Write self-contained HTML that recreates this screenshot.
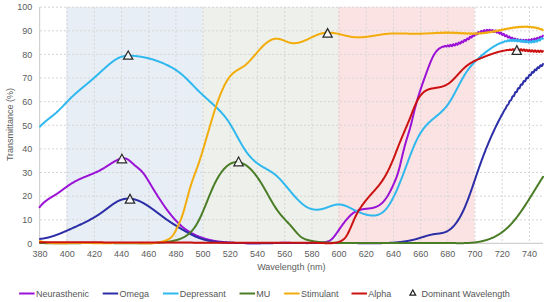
<!DOCTYPE html>
<html><head><meta charset="utf-8"><style>
html,body{margin:0;padding:0;background:#fff;width:550px;height:302px;overflow:hidden}
svg{display:block;font-family:"Liberation Sans",sans-serif}
</style></head><body>
<svg width="550" height="302" viewBox="0 0 550 302">
<rect x="66.2" y="7" width="135.9" height="236.4" fill="#e8eef6"/>
<rect x="202.1" y="7" width="135.9" height="236.4" fill="#eef1eb"/>
<rect x="338" y="7" width="136.6" height="236.4" fill="#fce3e3"/>
<g stroke="#d6d6d6" stroke-width="1" stroke-dasharray="2,2" fill="none">
<line x1="67.2" y1="7" x2="67.2" y2="243.4"/>
<line x1="94.4" y1="7" x2="94.4" y2="243.4"/>
<line x1="121.6" y1="7" x2="121.6" y2="243.4"/>
<line x1="148.8" y1="7" x2="148.8" y2="243.4"/>
<line x1="175.9" y1="7" x2="175.9" y2="243.4"/>
<line x1="203.1" y1="7" x2="203.1" y2="243.4"/>
<line x1="230.3" y1="7" x2="230.3" y2="243.4"/>
<line x1="257.5" y1="7" x2="257.5" y2="243.4"/>
<line x1="284.7" y1="7" x2="284.7" y2="243.4"/>
<line x1="311.9" y1="7" x2="311.9" y2="243.4"/>
<line x1="339.1" y1="7" x2="339.1" y2="243.4"/>
<line x1="366.3" y1="7" x2="366.3" y2="243.4"/>
<line x1="393.5" y1="7" x2="393.5" y2="243.4"/>
<line x1="420.7" y1="7" x2="420.7" y2="243.4"/>
<line x1="447.8" y1="7" x2="447.8" y2="243.4"/>
<line x1="475.0" y1="7" x2="475.0" y2="243.4"/>
<line x1="502.2" y1="7" x2="502.2" y2="243.4"/>
<line x1="529.4" y1="7" x2="529.4" y2="243.4"/>
<line x1="40" y1="219.8" x2="543" y2="219.8"/>
<line x1="40" y1="196.2" x2="543" y2="196.2"/>
<line x1="40" y1="172.5" x2="543" y2="172.5"/>
<line x1="40" y1="148.9" x2="543" y2="148.9"/>
<line x1="40" y1="125.3" x2="543" y2="125.3"/>
<line x1="40" y1="101.7" x2="543" y2="101.7"/>
<line x1="40" y1="78.0" x2="543" y2="78.0"/>
<line x1="40" y1="54.4" x2="543" y2="54.4"/>
<line x1="40" y1="30.8" x2="543" y2="30.8"/>
<line x1="40" y1="7.2" x2="543" y2="7.2"/>
</g>
<line x1="39.6" y1="7" x2="39.6" y2="243.4" stroke="#d0d0d0" stroke-width="1.2"/>
<line x1="39.6" y1="243.4" x2="543" y2="243.4" stroke="#d0d0d0" stroke-width="1.2"/>
<g fill="#5c5c5c" font-size="9" text-anchor="end">
<text x="32.2" y="246.6">0</text>
<text x="32.2" y="223.0">10</text>
<text x="32.2" y="199.3">20</text>
<text x="32.2" y="175.7">30</text>
<text x="32.2" y="152.1">40</text>
<text x="32.2" y="128.5">50</text>
<text x="32.2" y="104.9">60</text>
<text x="32.2" y="81.2">70</text>
<text x="32.2" y="57.6">80</text>
<text x="32.2" y="34.0">90</text>
<text x="32.2" y="10.4">100</text>
</g>
<g fill="#5c5c5c" font-size="9" text-anchor="middle">
<text x="40.0" y="257">380</text>
<text x="67.2" y="257">400</text>
<text x="94.4" y="257">420</text>
<text x="121.6" y="257">440</text>
<text x="148.8" y="257">460</text>
<text x="175.9" y="257">480</text>
<text x="203.1" y="257">500</text>
<text x="230.3" y="257">520</text>
<text x="257.5" y="257">540</text>
<text x="284.7" y="257">560</text>
<text x="311.9" y="257">580</text>
<text x="339.1" y="257">600</text>
<text x="366.3" y="257">620</text>
<text x="393.5" y="257">640</text>
<text x="420.7" y="257">660</text>
<text x="447.8" y="257">680</text>
<text x="475.0" y="257">700</text>
<text x="502.2" y="257">720</text>
<text x="529.4" y="257">740</text>
<text x="291.3" y="269.8">Wavelength (nm)</text>
<text transform="translate(13,124.5) rotate(-90)">Transmittance (%)</text>
</g>
<g fill="none" stroke-width="2" stroke-linejoin="round" stroke-linecap="round">
<path d="M39.60,207.15 L40.10,206.52 L40.60,205.92 L41.10,205.35 L41.60,204.80 L42.10,204.27 L42.60,203.76 L43.10,203.27 L43.60,202.80 L44.10,202.35 L44.60,201.91 L45.10,201.50 L45.60,201.09 L46.10,200.70 L46.60,200.33 L47.10,199.97 L47.60,199.61 L48.10,199.27 L48.60,198.94 L49.10,198.61 L49.60,198.29 L50.10,197.98 L50.60,197.67 L51.10,197.37 L51.60,197.07 L52.10,196.77 L52.60,196.47 L53.10,196.17 L53.60,195.88 L54.10,195.57 L54.60,195.27 L55.10,194.96 L55.60,194.64 L56.10,194.32 L56.60,194.00 L57.10,193.66 L57.60,193.33 L58.10,192.98 L58.60,192.64 L59.10,192.29 L59.60,191.93 L60.10,191.58 L60.60,191.22 L61.10,190.86 L61.60,190.49 L62.10,190.13 L62.60,189.76 L63.10,189.39 L63.60,189.03 L64.10,188.66 L64.60,188.29 L65.10,187.93 L65.60,187.56 L66.10,187.20 L66.60,186.84 L67.10,186.49 L67.60,186.13 L68.10,185.78 L68.60,185.43 L69.10,185.09 L69.60,184.75 L70.10,184.42 L70.60,184.09 L71.10,183.77 L71.60,183.46 L72.10,183.15 L72.60,182.85 L73.10,182.55 L73.60,182.26 L74.10,181.98 L74.60,181.70 L75.10,181.43 L75.60,181.16 L76.10,180.90 L76.60,180.64 L77.10,180.39 L77.60,180.14 L78.10,179.90 L78.60,179.66 L79.10,179.42 L79.60,179.19 L80.10,178.96 L80.60,178.74 L81.10,178.52 L81.60,178.30 L82.10,178.08 L82.60,177.86 L83.10,177.65 L83.60,177.44 L84.10,177.23 L84.60,177.03 L85.10,176.82 L85.60,176.62 L86.10,176.41 L86.60,176.21 L87.10,176.01 L87.60,175.80 L88.10,175.60 L88.60,175.40 L89.10,175.20 L89.60,175.00 L90.10,174.79 L90.60,174.59 L91.10,174.38 L91.60,174.18 L92.10,173.97 L92.60,173.76 L93.10,173.55 L93.60,173.33 L94.10,173.12 L94.60,172.90 L95.10,172.68 L95.60,172.45 L96.10,172.22 L96.60,171.99 L97.10,171.76 L97.60,171.52 L98.10,171.28 L98.60,171.03 L99.10,170.78 L99.60,170.52 L100.10,170.26 L100.60,170.00 L101.10,169.73 L101.60,169.45 L102.10,169.17 L102.60,168.88 L103.10,168.59 L103.60,168.29 L104.10,167.98 L104.60,167.68 L105.10,167.36 L105.60,167.05 L106.10,166.73 L106.60,166.41 L107.10,166.09 L107.60,165.76 L108.10,165.44 L108.60,165.11 L109.10,164.79 L109.60,164.47 L110.10,164.15 L110.60,163.83 L111.10,163.51 L111.60,163.20 L112.10,162.89 L112.60,162.58 L113.10,162.28 L113.60,161.98 L114.10,161.70 L114.60,161.41 L115.10,161.14 L115.60,160.87 L116.10,160.61 L116.60,160.35 L117.10,160.11 L117.60,159.88 L118.10,159.65 L118.60,159.44 L119.10,159.24 L119.60,159.05 L120.10,158.88 L120.60,158.72 L121.10,158.58 L121.60,158.47 L122.10,158.37 L122.60,158.30 L123.10,158.26 L123.60,158.24 L124.10,158.26 L124.60,158.30 L125.10,158.38 L125.60,158.50 L126.10,158.65 L126.60,158.84 L127.10,159.08 L127.60,159.35 L128.10,159.65 L128.60,159.99 L129.10,160.35 L129.60,160.74 L130.10,161.15 L130.60,161.57 L131.10,162.01 L131.60,162.46 L132.10,162.92 L132.60,163.38 L133.10,163.84 L133.60,164.29 L134.10,164.74 L134.60,165.18 L135.10,165.61 L135.60,166.02 L136.10,166.43 L136.60,166.84 L137.10,167.24 L137.60,167.64 L138.10,168.05 L138.60,168.46 L139.10,168.88 L139.60,169.32 L140.10,169.77 L140.60,170.24 L141.10,170.73 L141.60,171.25 L142.10,171.79 L142.60,172.36 L143.10,172.97 L143.60,173.60 L144.10,174.27 L144.60,174.96 L145.10,175.68 L145.60,176.41 L146.10,177.17 L146.60,177.95 L147.10,178.74 L147.60,179.54 L148.10,180.36 L148.60,181.18 L149.10,182.01 L149.60,182.85 L150.10,183.69 L150.60,184.52 L151.10,185.36 L151.60,186.19 L152.10,187.02 L152.60,187.85 L153.10,188.67 L153.60,189.49 L154.10,190.31 L154.60,191.12 L155.10,191.93 L155.60,192.74 L156.10,193.54 L156.60,194.34 L157.10,195.14 L157.60,195.93 L158.10,196.71 L158.60,197.49 L159.10,198.27 L159.60,199.04 L160.10,199.81 L160.60,200.57 L161.10,201.32 L161.60,202.07 L162.10,202.82 L162.60,203.56 L163.10,204.29 L163.60,205.01 L164.10,205.73 L164.60,206.45 L165.10,207.15 L165.60,207.85 L166.10,208.55 L166.60,209.23 L167.10,209.91 L167.60,210.58 L168.10,211.25 L168.60,211.91 L169.10,212.55 L169.60,213.20 L170.10,213.83 L170.60,214.46 L171.10,215.08 L171.60,215.69 L172.10,216.29 L172.60,216.89 L173.10,217.47 L173.60,218.05 L174.10,218.63 L174.60,219.19 L175.10,219.74 L175.60,220.29 L176.10,220.83 L176.60,221.36 L177.10,221.88 L177.60,222.39 L178.10,222.89 L178.60,223.38 L179.10,223.87 L179.60,224.34 L180.10,224.81 L180.60,225.27 L181.10,225.72 L181.60,226.16 L182.10,226.58 L182.60,227.00 L183.10,227.42 L183.60,227.82 L184.10,228.21 L184.60,228.60 L185.10,228.97 L185.60,229.34 L186.10,229.70 L186.60,230.05 L187.10,230.39 L187.60,230.73 L188.10,231.06 L188.60,231.38 L189.10,231.69 L189.60,232.00 L190.10,232.30 L190.60,232.59 L191.10,232.87 L191.60,233.15 L192.10,233.43 L192.60,233.69 L193.10,233.95 L193.60,234.21 L194.10,234.46 L194.60,234.70 L195.10,234.94 L195.60,235.17 L196.10,235.39 L196.60,235.62 L197.10,235.83 L197.60,236.04 L198.10,236.25 L198.60,236.46 L199.10,236.65 L199.60,236.85 L200.10,237.04 L200.60,237.22 L201.10,237.40 L201.60,237.58 L202.10,237.75 L202.60,237.92 L203.10,238.09 L203.60,238.25 L204.10,238.40 L204.60,238.56 L205.10,238.71 L205.60,238.85 L206.10,238.99 L206.60,239.13 L207.10,239.27 L207.60,239.40 L208.10,239.53 L208.60,239.65 L209.10,239.77 L209.60,239.89 L210.10,240.00 L210.60,240.11 L211.10,240.22 L211.60,240.33 L212.10,240.43 L212.60,240.53 L213.10,240.62 L213.60,240.72 L214.10,240.81 L214.60,240.90 L215.10,240.98 L215.60,241.06 L216.10,241.14 L216.60,241.22 L217.10,241.30 L217.60,241.37 L218.10,241.44 L218.60,241.51 L219.10,241.57 L219.60,241.64 L220.10,241.70 L220.60,241.76 L221.10,241.82 L221.60,241.87 L222.10,241.93 L222.60,241.98 L223.10,242.03 L223.60,242.08 L224.10,242.13 L224.60,242.17 L225.10,242.22 L225.60,242.26 L226.10,242.30 L226.60,242.34 L227.10,242.38 L227.60,242.42 L228.10,242.45 L228.60,242.49 L229.10,242.52 L229.60,242.56 L230.10,242.59 L230.60,242.62 L231.10,242.65 L231.60,242.68 L232.10,242.71 L232.60,242.73 L233.10,242.76 L233.60,242.79 L234.10,242.81 L234.60,242.83 L235.10,242.86 L235.60,242.88 L236.10,242.90 L236.60,242.92 L237.10,242.94 L237.60,242.96 L238.10,242.97 L238.60,242.99 L239.10,243.01 L239.60,243.02 L240.10,243.04 L240.60,243.05 L241.10,243.06 L241.60,243.07 L242.10,243.09 L242.60,243.10 L243.10,243.11 L243.60,243.12 L244.10,243.12 L244.60,243.13 L245.10,243.14 L245.60,243.15 L246.10,243.15 L246.60,243.16 L247.10,243.16 L247.60,243.17 L248.10,243.17 L248.60,243.17 L249.10,243.18 L249.60,243.18 L250.10,243.18 L250.60,243.18 L251.10,243.18 L251.60,243.18 L252.10,243.18 L252.60,243.18 L253.10,243.18 L253.60,243.18 L254.10,243.18 L254.60,243.18 L255.10,243.17 L255.60,243.17 L256.10,243.17 L256.60,243.16 L257.10,243.16 L257.60,243.16 L258.10,243.15 L258.60,243.15 L259.10,243.14 L259.60,243.14 L260.10,243.13 L260.60,243.13 L261.10,243.12 L261.60,243.11 L262.10,243.11 L262.60,243.10 L263.10,243.10 L263.60,243.09 L264.10,243.08 L264.60,243.07 L265.10,243.07 L265.60,243.06 L266.10,243.05 L266.60,243.05 L267.10,243.04 L267.60,243.03 L268.10,243.02 L268.60,243.02 L269.10,243.01 L269.60,243.00 L270.10,242.99 L270.60,242.99 L271.10,242.98 L271.60,242.97 L272.10,242.96 L272.60,242.96 L273.10,242.95 L273.60,242.94 L274.10,242.94 L274.60,242.93 L275.10,242.92 L275.60,242.92 L276.10,242.91 L276.60,242.91 L277.10,242.90 L277.60,242.89 L278.10,242.89 L278.60,242.88 L279.10,242.88 L279.60,242.88 L280.10,242.87 L280.60,242.87 L281.10,242.86 L281.60,242.86 L282.10,242.86 L282.60,242.86 L283.10,242.85 L283.60,242.85 L284.10,242.85 L284.60,242.85 L285.10,242.85 L285.60,242.85 L286.10,242.85 L286.60,242.85 L287.10,242.85 L287.60,242.85 L288.10,242.86 L288.60,242.86 L289.10,242.86 L289.60,242.87 L290.10,242.87 L290.60,242.88 L291.10,242.88 L291.60,242.89 L292.10,242.90 L292.60,242.90 L293.10,242.91 L293.60,242.92 L294.10,242.93 L294.60,242.94 L295.10,242.95 L295.60,242.96 L296.10,242.97 L296.60,242.98 L297.10,242.99 L297.60,243.00 L298.10,243.01 L298.60,243.02 L299.10,243.03 L299.60,243.04 L300.10,243.05 L300.60,243.06 L301.10,243.06 L301.60,243.07 L302.10,243.08 L302.60,243.09 L303.10,243.10 L303.60,243.10 L304.10,243.11 L304.60,243.11 L305.10,243.12 L305.60,243.12 L306.10,243.12 L306.60,243.13 L307.10,243.13 L307.60,243.13 L308.10,243.12 L308.60,243.12 L309.10,243.12 L309.60,243.11 L310.10,243.11 L310.60,243.10 L311.10,243.09 L311.60,243.08 L312.10,243.07 L312.60,243.06 L313.10,243.04 L313.60,243.03 L314.10,243.01 L314.60,242.99 L315.10,242.97 L315.60,242.94 L316.10,242.92 L316.60,242.89 L317.10,242.86 L317.60,242.83 L318.10,242.80 L318.60,242.76 L319.10,242.72 L319.60,242.68 L320.10,242.64 L320.60,242.60 L321.10,242.55 L321.60,242.50 L322.10,242.45 L322.60,242.39 L323.10,242.33 L323.60,242.27 L324.10,242.21 L324.60,242.14 L325.10,242.07 L325.60,241.98 L326.10,241.88 L326.60,241.76 L327.10,241.63 L327.60,241.48 L328.10,241.30 L328.60,241.10 L329.10,240.87 L329.60,240.61 L330.10,240.31 L330.60,239.98 L331.10,239.61 L331.60,239.21 L332.10,238.75 L332.60,238.26 L333.10,237.73 L333.60,237.17 L334.10,236.57 L334.60,235.95 L335.10,235.31 L335.60,234.64 L336.10,233.95 L336.60,233.25 L337.10,232.53 L337.60,231.81 L338.10,231.08 L338.60,230.34 L339.10,229.61 L339.60,228.88 L340.10,228.15 L340.60,227.44 L341.10,226.72 L341.60,226.02 L342.10,225.33 L342.60,224.64 L343.10,223.96 L343.60,223.30 L344.10,222.64 L344.60,221.99 L345.10,221.36 L345.60,220.73 L346.10,220.12 L346.60,219.53 L347.10,218.94 L347.60,218.37 L348.10,217.81 L348.60,217.27 L349.10,216.75 L349.60,216.24 L350.10,215.74 L350.60,215.26 L351.10,214.81 L351.60,214.36 L352.10,213.94 L352.60,213.54 L353.10,213.15 L353.60,212.79 L354.10,212.44 L354.60,212.12 L355.10,211.81 L355.60,211.53 L356.10,211.27 L356.60,211.03 L357.10,210.80 L357.60,210.59 L358.10,210.40 L358.60,210.22 L359.10,210.06 L359.60,209.91 L360.10,209.78 L360.60,209.65 L361.10,209.54 L361.60,209.44 L362.10,209.34 L362.60,209.26 L363.10,209.18 L363.60,209.10 L364.10,209.04 L364.60,208.98 L365.10,208.92 L365.60,208.86 L366.10,208.81 L366.60,208.76 L367.10,208.71 L367.60,208.65 L368.10,208.60 L368.60,208.55 L369.10,208.49 L369.60,208.42 L370.10,208.35 L370.60,208.28 L371.10,208.20 L371.60,208.11 L372.10,208.01 L372.60,207.91 L373.10,207.79 L373.60,207.66 L374.10,207.52 L374.60,207.37 L375.10,207.20 L375.60,207.02 L376.10,206.83 L376.60,206.61 L377.10,206.38 L377.60,206.13 L378.10,205.87 L378.60,205.58 L379.10,205.27 L379.60,204.94 L380.10,204.59 L380.60,204.21 L381.10,203.81 L381.60,203.38 L382.10,202.93 L382.60,202.45 L383.10,201.95 L383.60,201.41 L384.10,200.84 L384.60,200.25 L385.10,199.62 L385.60,198.96 L386.10,198.27 L386.60,197.54 L387.10,196.78 L387.60,195.98 L388.10,195.15 L388.60,194.29 L389.10,193.40 L389.60,192.48 L390.10,191.54 L390.60,190.56 L391.10,189.56 L391.60,188.53 L392.10,187.48 L392.60,186.41 L393.10,185.32 L393.60,184.20 L394.10,183.07 L394.60,181.92 L395.10,180.75 L395.60,179.55 L396.10,178.30 L396.60,176.99 L397.10,175.61 L397.60,174.14 L398.10,172.57 L398.60,170.89 L399.10,169.08 L399.60,167.16 L400.10,165.15 L400.60,163.08 L401.10,160.96 L401.60,158.82 L402.10,156.67 L402.60,154.54 L403.10,152.45 L403.60,150.41 L404.10,148.43 L404.60,146.53 L405.10,144.70 L405.60,142.95 L406.10,141.24 L406.60,139.58 L407.10,137.95 L407.60,136.33 L408.10,134.70 L408.60,133.07 L409.10,131.40 L409.60,129.68 L410.10,127.91 L410.60,126.07 L411.10,124.14 L411.60,122.14 L412.10,120.10 L412.60,118.02 L413.10,115.93 L413.60,113.85 L414.10,111.79 L414.60,109.77 L415.10,107.82 L415.60,105.92 L416.10,104.08 L416.60,102.28 L417.10,100.54 L417.60,98.83 L418.10,97.17 L418.60,95.54 L419.10,93.94 L419.60,92.38 L420.10,90.84 L420.60,89.33 L421.10,87.84 L421.60,86.38 L422.10,84.93 L422.60,83.50 L423.10,82.09 L423.60,80.68 L424.10,79.28 L424.60,77.89 L425.10,76.51 L425.60,75.12 L426.10,73.74 L426.60,72.36 L427.10,70.98 L427.60,69.62 L428.10,68.27 L428.60,66.94 L429.10,65.63 L429.60,64.34 L430.10,63.09 L430.60,61.87 L431.10,60.68 L431.60,59.54 L432.10,58.45 L432.60,57.40 L433.10,56.40 L433.60,55.47 L434.10,54.59 L434.60,53.77 L435.10,53.00 L435.60,52.29 L436.10,51.63 L436.60,51.02 L437.10,50.46 L437.60,49.95 L438.10,49.48 L438.60,49.05 L439.10,48.65 L439.60,48.30 L440.00,48.04 L440.35,47.85 L440.70,47.69 L441.05,47.51 L441.40,47.30 L441.75,47.06 L442.10,46.86 L442.45,46.76 L442.80,46.77 L443.15,46.82 L443.50,46.82 L443.85,46.68 L444.20,46.41 L444.55,46.11 L444.90,45.93 L445.25,45.96 L445.60,46.17 L445.95,46.42 L446.30,46.53 L446.65,46.37 L447.00,46.00 L447.35,45.60 L447.70,45.39 L448.05,45.50 L448.40,45.86 L448.75,46.27 L449.10,46.44 L449.45,46.22 L449.80,45.71 L450.15,45.15 L450.50,44.87 L450.85,45.01 L451.20,45.50 L451.55,46.01 L451.90,46.21 L452.25,45.90 L452.60,45.23 L452.95,44.55 L453.30,44.22 L453.65,44.39 L454.00,44.91 L454.35,45.42 L454.70,45.57 L455.05,45.23 L455.40,44.53 L455.75,43.82 L456.10,43.47 L456.45,43.60 L456.80,44.09 L457.15,44.58 L457.50,44.71 L457.85,44.33 L458.20,43.61 L458.55,42.88 L458.90,42.49 L459.25,42.61 L459.60,43.07 L459.95,43.53 L460.30,43.63 L460.65,43.23 L461.00,42.48 L461.35,41.72 L461.70,41.32 L462.05,41.41 L462.40,41.84 L462.75,42.28 L463.10,42.36 L463.45,41.93 L463.80,41.16 L464.15,40.38 L464.50,39.95 L464.85,40.01 L465.20,40.43 L465.55,40.84 L465.90,40.89 L466.25,40.45 L466.60,39.65 L466.95,38.85 L467.30,38.39 L467.65,38.44 L468.00,38.83 L468.35,39.23 L468.70,39.27 L469.05,38.81 L469.40,38.00 L469.75,37.18 L470.10,36.72 L470.45,36.76 L470.80,37.15 L471.15,37.54 L471.50,37.58 L471.85,37.12 L472.20,36.30 L472.55,35.49 L472.90,35.04 L473.25,35.08 L473.60,35.47 L473.95,35.87 L474.30,35.92 L474.65,35.47 L475.00,34.67 L475.35,33.88 L475.70,33.44 L476.05,33.50 L476.40,33.91 L476.75,34.33 L477.10,34.40 L477.45,33.98 L477.80,33.20 L478.15,32.44 L478.50,32.02 L478.85,32.12 L479.20,32.56 L479.55,33.02 L479.90,33.12 L480.25,32.74 L480.60,32.00 L480.95,31.27 L481.30,30.91 L481.65,31.04 L482.00,31.53 L482.35,32.03 L482.70,32.18 L483.05,31.84 L483.40,31.15 L483.75,30.47 L484.10,30.14 L484.45,30.32 L484.80,30.86 L485.15,31.40 L485.50,31.60 L485.85,31.30 L486.20,30.66 L486.55,30.02 L486.90,29.74 L487.25,29.96 L487.60,30.54 L487.95,31.13 L488.30,31.37 L488.65,31.11 L489.00,30.51 L489.35,29.92 L489.70,29.68 L490.05,29.94 L490.40,30.56 L490.75,31.19 L491.10,31.47 L491.45,31.26 L491.80,30.70 L492.15,30.14 L492.50,29.95 L492.85,30.25 L493.20,30.91 L493.55,31.58 L493.90,31.90 L494.25,31.73 L494.60,31.21 L494.95,30.69 L495.30,30.54 L495.65,30.88 L496.00,31.58 L496.35,32.29 L496.70,32.65 L497.05,32.51 L497.40,32.03 L497.75,31.55 L498.10,31.43 L498.45,31.81 L498.80,32.55 L499.15,33.29 L499.50,33.68 L499.85,33.58 L500.20,33.12 L500.55,32.67 L500.90,32.58 L501.25,32.98 L501.60,33.74 L501.95,34.50 L502.30,34.91 L502.65,34.82 L503.00,34.39 L503.35,33.95 L503.70,33.87 L504.05,34.28 L504.40,35.05 L504.75,35.82 L505.10,36.23 L505.45,36.15 L505.80,35.72 L506.15,35.28 L506.50,35.20 L506.85,35.61 L507.20,36.38 L507.55,37.14 L507.90,37.55 L508.25,37.46 L508.60,37.02 L508.95,36.57 L509.30,36.48 L509.65,36.88 L510.00,37.63 L510.35,38.37 L510.70,38.76 L511.05,38.65 L511.40,38.19 L511.75,37.72 L512.10,37.60 L512.45,37.97 L512.80,38.69 L513.15,39.41 L513.50,39.77 L513.85,39.63 L514.20,39.13 L514.55,38.63 L514.90,38.48 L515.25,38.82 L515.60,39.52 L515.95,40.20 L516.30,40.54 L516.65,40.37 L517.00,39.84 L517.35,39.31 L517.70,39.13 L518.05,39.45 L518.40,40.11 L518.75,40.77 L519.10,41.07 L519.45,40.87 L519.80,40.32 L520.15,39.76 L520.50,39.56 L520.85,39.84 L521.20,40.48 L521.55,41.11 L521.90,41.38 L522.25,41.16 L522.60,40.58 L522.95,39.99 L523.30,39.76 L523.65,40.02 L524.00,40.63 L524.35,41.23 L524.70,41.48 L525.05,41.23 L525.40,40.62 L525.75,40.01 L526.10,39.75 L526.45,39.98 L526.80,40.56 L527.15,41.14 L527.50,41.37 L527.85,41.09 L528.20,40.46 L528.55,39.82 L528.90,39.53 L529.25,39.74 L529.60,40.30 L529.95,40.85 L530.30,41.05 L530.65,40.75 L531.00,40.09 L531.35,39.43 L531.70,39.12 L532.05,39.30 L532.40,39.84 L532.75,40.37 L533.10,40.54 L533.45,40.22 L533.80,39.53 L534.15,38.85 L534.50,38.52 L534.85,38.68 L535.20,39.19 L535.55,39.69 L535.90,39.84 L536.25,39.49 L536.60,38.79 L536.95,38.08 L537.30,37.73 L537.65,37.86 L538.00,38.35 L538.35,38.84 L538.70,38.97 L539.05,38.59 L539.40,37.87 L539.75,37.14 L540.10,36.76 L540.45,36.88 L540.80,37.34 L541.15,37.81 L541.50,37.91 L541.85,37.52 L542.20,36.78 L542.55,36.03 L542.90,35.63" stroke="#9a12d6"/>
<path d="M40.00,238.91 L40.50,238.86 L41.00,238.81 L41.50,238.75 L42.00,238.69 L42.50,238.62 L43.00,238.55 L43.50,238.47 L44.00,238.38 L44.50,238.29 L45.00,238.20 L45.50,238.10 L46.00,238.00 L46.50,237.89 L47.00,237.78 L47.50,237.66 L48.00,237.54 L48.50,237.41 L49.00,237.28 L49.50,237.15 L50.00,237.01 L50.50,236.87 L51.00,236.72 L51.50,236.58 L52.00,236.42 L52.50,236.27 L53.00,236.11 L53.50,235.94 L54.00,235.78 L54.50,235.61 L55.00,235.44 L55.50,235.26 L56.00,235.08 L56.50,234.90 L57.00,234.72 L57.50,234.53 L58.00,234.35 L58.50,234.15 L59.00,233.96 L59.50,233.76 L60.00,233.57 L60.50,233.37 L61.00,233.16 L61.50,232.96 L62.00,232.75 L62.50,232.55 L63.00,232.34 L63.50,232.13 L64.00,231.91 L64.50,231.70 L65.00,231.49 L65.50,231.27 L66.00,231.05 L66.50,230.83 L67.00,230.61 L67.50,230.39 L68.00,230.17 L68.50,229.95 L69.00,229.73 L69.50,229.51 L70.00,229.28 L70.50,229.06 L71.00,228.83 L71.50,228.61 L72.00,228.39 L72.50,228.16 L73.00,227.94 L73.50,227.71 L74.00,227.49 L74.50,227.26 L75.00,227.04 L75.50,226.81 L76.00,226.59 L76.50,226.36 L77.00,226.13 L77.50,225.90 L78.00,225.67 L78.50,225.44 L79.00,225.21 L79.50,224.98 L80.00,224.75 L80.50,224.51 L81.00,224.28 L81.50,224.04 L82.00,223.80 L82.50,223.57 L83.00,223.32 L83.50,223.08 L84.00,222.84 L84.50,222.59 L85.00,222.34 L85.50,222.09 L86.00,221.84 L86.50,221.59 L87.00,221.33 L87.50,221.08 L88.00,220.82 L88.50,220.55 L89.00,220.29 L89.50,220.02 L90.00,219.75 L90.50,219.48 L91.00,219.21 L91.50,218.93 L92.00,218.65 L92.50,218.36 L93.00,218.08 L93.50,217.79 L94.00,217.50 L94.50,217.20 L95.00,216.90 L95.50,216.60 L96.00,216.29 L96.50,215.98 L97.00,215.67 L97.50,215.36 L98.00,215.04 L98.50,214.71 L99.00,214.38 L99.50,214.05 L100.00,213.72 L100.50,213.38 L101.00,213.03 L101.50,212.69 L102.00,212.34 L102.50,211.98 L103.00,211.62 L103.50,211.25 L104.00,210.88 L104.50,210.51 L105.00,210.14 L105.50,209.76 L106.00,209.38 L106.50,209.00 L107.00,208.62 L107.50,208.24 L108.00,207.86 L108.50,207.48 L109.00,207.10 L109.50,206.72 L110.00,206.35 L110.50,205.98 L111.00,205.61 L111.50,205.25 L112.00,204.89 L112.50,204.54 L113.00,204.19 L113.50,203.85 L114.00,203.52 L114.50,203.19 L115.00,202.87 L115.50,202.57 L116.00,202.27 L116.50,201.98 L117.00,201.69 L117.50,201.43 L118.00,201.17 L118.50,200.92 L119.00,200.69 L119.50,200.47 L120.00,200.26 L120.50,200.06 L121.00,199.88 L121.50,199.71 L122.00,199.55 L122.50,199.41 L123.00,199.27 L123.50,199.15 L124.00,199.05 L124.50,198.95 L125.00,198.86 L125.50,198.79 L126.00,198.73 L126.50,198.68 L127.00,198.64 L127.50,198.62 L128.00,198.60 L128.50,198.60 L129.00,198.61 L129.50,198.62 L130.00,198.65 L130.50,198.69 L131.00,198.75 L131.50,198.81 L132.00,198.88 L132.50,198.96 L133.00,199.06 L133.50,199.16 L134.00,199.28 L134.50,199.40 L135.00,199.54 L135.50,199.68 L136.00,199.84 L136.50,200.00 L137.00,200.17 L137.50,200.36 L138.00,200.55 L138.50,200.75 L139.00,200.96 L139.50,201.17 L140.00,201.40 L140.50,201.63 L141.00,201.87 L141.50,202.12 L142.00,202.38 L142.50,202.64 L143.00,202.91 L143.50,203.18 L144.00,203.47 L144.50,203.76 L145.00,204.05 L145.50,204.35 L146.00,204.66 L146.50,204.97 L147.00,205.29 L147.50,205.61 L148.00,205.93 L148.50,206.26 L149.00,206.60 L149.50,206.94 L150.00,207.28 L150.50,207.63 L151.00,207.98 L151.50,208.33 L152.00,208.69 L152.50,209.05 L153.00,209.41 L153.50,209.78 L154.00,210.15 L154.50,210.51 L155.00,210.89 L155.50,211.26 L156.00,211.63 L156.50,212.01 L157.00,212.38 L157.50,212.76 L158.00,213.14 L158.50,213.52 L159.00,213.89 L159.50,214.27 L160.00,214.65 L160.50,215.03 L161.00,215.40 L161.50,215.78 L162.00,216.15 L162.50,216.53 L163.00,216.90 L163.50,217.27 L164.00,217.63 L164.50,218.00 L165.00,218.36 L165.50,218.72 L166.00,219.08 L166.50,219.44 L167.00,219.79 L167.50,220.14 L168.00,220.48 L168.50,220.83 L169.00,221.17 L169.50,221.51 L170.00,221.84 L170.50,222.18 L171.00,222.51 L171.50,222.84 L172.00,223.16 L172.50,223.49 L173.00,223.81 L173.50,224.13 L174.00,224.45 L174.50,224.76 L175.00,225.08 L175.50,225.39 L176.00,225.70 L176.50,226.01 L177.00,226.32 L177.50,226.62 L178.00,226.93 L178.50,227.23 L179.00,227.53 L179.50,227.83 L180.00,228.13 L180.50,228.43 L181.00,228.73 L181.50,229.02 L182.00,229.32 L182.50,229.61 L183.00,229.91 L183.50,230.20 L184.00,230.49 L184.50,230.78 L185.00,231.07 L185.50,231.36 L186.00,231.64 L186.50,231.92 L187.00,232.20 L187.50,232.48 L188.00,232.76 L188.50,233.03 L189.00,233.30 L189.50,233.57 L190.00,233.84 L190.50,234.10 L191.00,234.36 L191.50,234.62 L192.00,234.87 L192.50,235.12 L193.00,235.36 L193.50,235.60 L194.00,235.84 L194.50,236.07 L195.00,236.30 L195.50,236.53 L196.00,236.74 L196.50,236.96 L197.00,237.17 L197.50,237.37 L198.00,237.57 L198.50,237.77 L199.00,237.96 L199.50,238.14 L200.00,238.32 L200.50,238.49 L201.00,238.66 L201.50,238.83 L202.00,238.99 L202.50,239.14 L203.00,239.29 L203.50,239.44 L204.00,239.58 L204.50,239.71 L205.00,239.85 L205.50,239.97 L206.00,240.10 L206.50,240.22 L207.00,240.33 L207.50,240.45 L208.00,240.56 L208.50,240.66 L209.00,240.76 L209.50,240.86 L210.00,240.95 L210.50,241.04 L211.00,241.13 L211.50,241.21 L212.00,241.29 L212.50,241.37 L213.00,241.45 L213.50,241.52 L214.00,241.59 L214.50,241.65 L215.00,241.72 L215.50,241.78 L216.00,241.83 L216.50,241.89 L217.00,241.94 L217.50,241.99 L218.00,242.04 L218.50,242.09 L219.00,242.13 L219.50,242.18 L220.00,242.22 L220.50,242.25 L221.00,242.29 L221.50,242.33 L222.00,242.36 L222.50,242.39 L223.00,242.42 L223.50,242.45 L224.00,242.48 L224.50,242.51 L225.00,242.53 L225.50,242.56 L226.00,242.58 L226.50,242.60 L227.00,242.62 L227.50,242.64 L228.00,242.66 L228.50,242.68 L229.00,242.70 L229.50,242.72 L230.00,242.74 L230.50,242.76 L231.00,242.77 L231.50,242.79 L232.00,242.81 L232.50,242.82 L233.00,242.84 L233.50,242.85 L234.00,242.87 L234.50,242.88 L235.00,242.90 L235.50,242.91 L236.00,242.92 L236.50,242.94 L237.00,242.95 L237.50,242.96 L238.00,242.97 L238.50,242.98 L239.00,243.00 L239.50,243.01 L240.00,243.02 L240.50,243.03 L241.00,243.04 L241.50,243.05 L242.00,243.05 L242.50,243.06 L243.00,243.07 L243.50,243.08 L244.00,243.09 L244.50,243.09 L245.00,243.10 L245.50,243.11 L246.00,243.11 L246.50,243.12 L247.00,243.13 L247.50,243.13 L248.00,243.14 L248.50,243.14 L249.00,243.15 L249.50,243.15 L250.00,243.16 L250.50,243.16 L251.00,243.16 L251.50,243.17 L252.00,243.17 L252.50,243.17 L253.00,243.17 L253.50,243.18 L254.00,243.18 L254.50,243.18 L255.00,243.18 L255.50,243.18 L256.00,243.19 L256.50,243.19 L257.00,243.19 L257.50,243.19 L258.00,243.19 L258.50,243.19 L259.00,243.19 L259.50,243.19 L260.00,243.19 L260.50,243.19 L261.00,243.19 L261.50,243.19 L262.00,243.18 L262.50,243.18 L263.00,243.18 L263.50,243.18 L264.00,243.18 L264.50,243.18 L265.00,243.17 L265.50,243.17 L266.00,243.17 L266.50,243.17 L267.00,243.17 L267.50,243.16 L268.00,243.16 L268.50,243.16 L269.00,243.15 L269.50,243.15 L270.00,243.15 L270.50,243.14 L271.00,243.14 L271.50,243.14 L272.00,243.13 L272.50,243.13 L273.00,243.13 L273.50,243.12 L274.00,243.12 L274.50,243.11 L275.00,243.11 L275.50,243.11 L276.00,243.10 L276.50,243.10 L277.00,243.09 L277.50,243.09 L278.00,243.08 L278.50,243.08 L279.00,243.08 L279.50,243.07 L280.00,243.07 L280.50,243.06 L281.00,243.06 L281.50,243.05 L282.00,243.05 L282.50,243.04 L283.00,243.04 L283.50,243.04 L284.00,243.03 L284.50,243.03 L285.00,243.02 L285.50,243.02 L286.00,243.01 L286.50,243.01 L287.00,243.00 L287.50,243.00 L288.00,243.00 L288.50,242.99 L289.00,242.99 L289.50,242.98 L290.00,242.98 L290.50,242.98 L291.00,242.97 L291.50,242.97 L292.00,242.96 L292.50,242.96 L293.00,242.96 L293.50,242.95 L294.00,242.95 L294.50,242.95 L295.00,242.94 L295.50,242.94 L296.00,242.94 L296.50,242.93 L297.00,242.93 L297.50,242.93 L298.00,242.93 L298.50,242.92 L299.00,242.92 L299.50,242.92 L300.00,242.91 L300.50,242.91 L301.00,242.91 L301.50,242.91 L302.00,242.91 L302.50,242.90 L303.00,242.90 L303.50,242.90 L304.00,242.90 L304.50,242.90 L305.00,242.89 L305.50,242.89 L306.00,242.89 L306.50,242.89 L307.00,242.89 L307.50,242.89 L308.00,242.88 L308.50,242.88 L309.00,242.88 L309.50,242.88 L310.00,242.88 L310.50,242.88 L311.00,242.88 L311.50,242.88 L312.00,242.88 L312.50,242.88 L313.00,242.88 L313.50,242.87 L314.00,242.87 L314.50,242.87 L315.00,242.87 L315.50,242.87 L316.00,242.87 L316.50,242.87 L317.00,242.87 L317.50,242.87 L318.00,242.87 L318.50,242.87 L319.00,242.87 L319.50,242.87 L320.00,242.88 L320.50,242.88 L321.00,242.88 L321.50,242.88 L322.00,242.88 L322.50,242.88 L323.00,242.88 L323.50,242.88 L324.00,242.88 L324.50,242.88 L325.00,242.88 L325.50,242.89 L326.00,242.89 L326.50,242.89 L327.00,242.89 L327.50,242.89 L328.00,242.89 L328.50,242.89 L329.00,242.90 L329.50,242.90 L330.00,242.90 L330.50,242.90 L331.00,242.90 L331.50,242.91 L332.00,242.91 L332.50,242.91 L333.00,242.91 L333.50,242.92 L334.00,242.92 L334.50,242.92 L335.00,242.92 L335.50,242.93 L336.00,242.93 L336.50,242.93 L337.00,242.94 L337.50,242.94 L338.00,242.94 L338.50,242.95 L339.00,242.95 L339.50,242.95 L340.00,242.96 L340.50,242.96 L341.00,242.96 L341.50,242.97 L342.00,242.97 L342.50,242.98 L343.00,242.98 L343.50,242.98 L344.00,242.99 L344.50,242.99 L345.00,243.00 L345.50,243.00 L346.00,243.01 L346.50,243.01 L347.00,243.01 L347.50,243.02 L348.00,243.02 L348.50,243.03 L349.00,243.03 L349.50,243.04 L350.00,243.04 L350.50,243.05 L351.00,243.05 L351.50,243.06 L352.00,243.06 L352.50,243.07 L353.00,243.08 L353.50,243.08 L354.00,243.09 L354.50,243.09 L355.00,243.10 L355.50,243.10 L356.00,243.11 L356.50,243.12 L357.00,243.12 L357.50,243.13 L358.00,243.13 L358.50,243.14 L359.00,243.15 L359.50,243.15 L360.00,243.16 L360.50,243.16 L361.00,243.17 L361.50,243.17 L362.00,243.18 L362.50,243.18 L363.00,243.19 L363.50,243.19 L364.00,243.20 L364.50,243.20 L365.00,243.20 L365.50,243.20 L366.00,243.20 L366.50,243.20 L367.00,243.20 L367.50,243.20 L368.00,243.20 L368.50,243.20 L369.00,243.20 L369.50,243.20 L370.00,243.20 L370.50,243.20 L371.00,243.20 L371.50,243.20 L372.00,243.20 L372.50,243.20 L373.00,243.20 L373.50,243.20 L374.00,243.20 L374.50,243.20 L375.00,243.20 L375.50,243.20 L376.00,243.20 L376.50,243.20 L377.00,243.20 L377.50,243.20 L378.00,243.20 L378.50,243.19 L379.00,243.18 L379.50,243.17 L380.00,243.17 L380.50,243.16 L381.00,243.15 L381.50,243.14 L382.00,243.12 L382.50,243.11 L383.00,243.10 L383.50,243.09 L384.00,243.07 L384.50,243.06 L385.00,243.04 L385.50,243.02 L386.00,243.01 L386.50,242.99 L387.00,242.97 L387.50,242.95 L388.00,242.93 L388.50,242.91 L389.00,242.88 L389.50,242.86 L390.00,242.84 L390.50,242.81 L391.00,242.78 L391.50,242.75 L392.00,242.72 L392.50,242.69 L393.00,242.66 L393.50,242.63 L394.00,242.59 L394.50,242.56 L395.00,242.52 L395.50,242.48 L396.00,242.44 L396.50,242.39 L397.00,242.35 L397.50,242.31 L398.00,242.26 L398.50,242.21 L399.00,242.16 L399.50,242.10 L400.00,242.05 L400.50,241.99 L401.00,241.94 L401.50,241.87 L402.00,241.81 L402.50,241.75 L403.00,241.68 L403.50,241.61 L404.00,241.54 L404.50,241.47 L405.00,241.39 L405.50,241.32 L406.00,241.24 L406.50,241.15 L407.00,241.07 L407.50,240.98 L408.00,240.89 L408.50,240.80 L409.00,240.71 L409.50,240.61 L410.00,240.51 L410.50,240.41 L411.00,240.30 L411.50,240.20 L412.00,240.09 L412.50,239.97 L413.00,239.86 L413.50,239.74 L414.00,239.62 L414.50,239.49 L415.00,239.36 L415.50,239.23 L416.00,239.10 L416.50,238.96 L417.00,238.82 L417.50,238.68 L418.00,238.53 L418.50,238.38 L419.00,238.23 L419.50,238.08 L420.00,237.92 L420.50,237.77 L421.00,237.61 L421.50,237.45 L422.00,237.30 L422.50,237.14 L423.00,236.98 L423.50,236.82 L424.00,236.67 L424.50,236.51 L425.00,236.36 L425.50,236.20 L426.00,236.05 L426.50,235.91 L427.00,235.76 L427.50,235.62 L428.00,235.48 L428.50,235.35 L429.00,235.21 L429.50,235.09 L430.00,234.97 L430.50,234.85 L431.00,234.74 L431.50,234.63 L432.00,234.53 L432.50,234.43 L433.00,234.34 L433.50,234.26 L434.00,234.19 L434.50,234.11 L435.00,234.05 L435.50,233.98 L436.00,233.92 L436.50,233.86 L437.00,233.80 L437.50,233.74 L438.00,233.68 L438.50,233.61 L439.00,233.55 L439.50,233.47 L440.00,233.40 L440.50,233.31 L441.00,233.23 L441.50,233.13 L442.00,233.02 L442.50,232.91 L443.00,232.78 L443.50,232.64 L444.00,232.50 L444.50,232.33 L445.00,232.16 L445.50,231.97 L446.00,231.76 L446.50,231.53 L447.00,231.29 L447.50,231.03 L448.00,230.75 L448.50,230.45 L449.00,230.13 L449.50,229.79 L450.00,229.42 L450.50,229.04 L451.00,228.63 L451.50,228.19 L452.00,227.73 L452.50,227.25 L453.00,226.75 L453.50,226.22 L454.00,225.67 L454.50,225.09 L455.00,224.48 L455.50,223.86 L456.00,223.20 L456.50,222.53 L457.00,221.82 L457.50,221.09 L458.00,220.33 L458.50,219.55 L459.00,218.74 L459.50,217.90 L460.00,217.04 L460.50,216.15 L461.00,215.23 L461.50,214.28 L462.00,213.30 L462.50,212.30 L463.00,211.26 L463.50,210.20 L464.00,209.11 L464.50,207.99 L465.00,206.84 L465.50,205.66 L466.00,204.45 L466.50,203.21 L467.00,201.95 L467.50,200.66 L468.00,199.36 L468.50,198.03 L469.00,196.68 L469.50,195.31 L470.00,193.92 L470.50,192.52 L471.00,191.11 L471.50,189.68 L472.00,188.25 L472.50,186.80 L473.00,185.34 L473.50,183.88 L474.00,182.41 L474.50,180.94 L475.00,179.47 L475.50,178.00 L476.00,176.52 L476.50,175.05 L477.00,173.58 L477.50,172.12 L478.00,170.67 L478.50,169.22 L479.00,167.78 L479.50,166.35 L480.00,164.94 L480.50,163.54 L481.00,162.15 L481.50,160.77 L482.00,159.41 L482.50,158.06 L483.00,156.73 L483.50,155.41 L484.00,154.10 L484.50,152.80 L485.00,151.52 L485.50,150.25 L486.00,148.99 L486.50,147.75 L487.00,146.51 L487.50,145.29 L488.00,144.08 L488.50,142.89 L489.00,141.70 L489.50,140.53 L490.00,139.37 L490.50,138.22 L491.00,137.08 L491.50,135.95 L492.00,134.83 L492.50,133.73 L493.00,132.63 L493.50,131.55 L494.00,130.48 L494.50,129.41 L495.00,128.36 L495.50,127.32 L496.00,126.29 L496.50,125.27 L497.00,124.26 L497.50,123.25 L498.00,122.26 L498.50,121.28 L499.00,120.31 L499.50,119.34 L500.00,118.39 L500.50,117.45 L501.00,116.51 L501.50,115.58 L502.00,114.67 L502.35,114.05 L502.70,113.45 L503.05,112.82 L503.40,112.14 L503.75,111.43 L504.10,110.75 L504.45,110.16 L504.80,109.68 L505.15,109.24 L505.50,108.74 L505.85,108.08 L506.20,107.29 L506.55,106.46 L506.90,105.74 L507.25,105.25 L507.60,104.95 L507.95,104.69 L508.30,104.28 L508.65,103.59 L509.00,102.68 L509.35,101.73 L509.70,100.98 L510.05,100.58 L510.40,100.46 L510.75,100.37 L511.10,100.05 L511.45,99.33 L511.80,98.29 L512.15,97.22 L512.50,96.44 L512.85,96.12 L513.20,96.17 L513.55,96.26 L513.90,96.03 L514.25,95.26 L514.60,94.11 L514.95,92.97 L515.30,92.20 L515.65,91.96 L516.00,92.10 L516.35,92.24 L516.70,92.02 L517.05,91.27 L517.40,90.15 L517.75,89.03 L518.10,88.29 L518.45,88.08 L518.80,88.25 L519.15,88.42 L519.50,88.22 L519.85,87.49 L520.20,86.40 L520.55,85.31 L520.90,84.60 L521.25,84.42 L521.60,84.61 L521.95,84.81 L522.30,84.64 L522.65,83.94 L523.00,82.88 L523.35,81.81 L523.70,81.13 L524.05,80.98 L524.40,81.20 L524.75,81.42 L525.10,81.28 L525.45,80.61 L525.80,79.58 L526.15,78.54 L526.50,77.89 L526.85,77.76 L527.20,78.01 L527.55,78.27 L527.90,78.15 L528.25,77.51 L528.60,76.51 L528.95,75.50 L529.30,74.88 L529.65,74.78 L530.00,75.06 L530.35,75.34 L530.70,75.26 L531.05,74.65 L531.40,73.67 L531.75,72.70 L532.10,72.10 L532.45,72.03 L532.80,72.34 L533.15,72.66 L533.50,72.60 L533.85,72.02 L534.20,71.07 L534.55,70.13 L534.90,69.56 L535.25,69.53 L535.60,69.87 L535.95,70.21 L536.30,70.19 L536.65,69.64 L537.00,68.72 L537.35,67.81 L537.70,67.27 L538.05,67.26 L538.40,67.63 L538.75,68.01 L539.10,68.01 L539.45,67.50 L539.80,66.61 L540.15,65.73 L540.50,65.22 L540.85,65.25 L541.20,65.65 L541.55,66.06 L541.90,66.09 L542.25,65.61 L542.60,64.75 L542.90,64.01" stroke="#2b2ea6"/>
<path d="M40.00,126.62 L40.50,126.08 L41.00,125.56 L41.50,125.05 L42.00,124.56 L42.50,124.07 L43.00,123.60 L43.50,123.14 L44.00,122.69 L44.50,122.25 L45.00,121.82 L45.50,121.39 L46.00,120.98 L46.50,120.57 L47.00,120.16 L47.50,119.76 L48.00,119.36 L48.50,118.97 L49.00,118.58 L49.50,118.19 L50.00,117.80 L50.50,117.41 L51.00,117.02 L51.50,116.63 L52.00,116.23 L52.50,115.84 L53.00,115.44 L53.50,115.04 L54.00,114.63 L54.50,114.21 L55.00,113.79 L55.50,113.36 L56.00,112.93 L56.50,112.48 L57.00,112.03 L57.50,111.57 L58.00,111.10 L58.50,110.62 L59.00,110.14 L59.50,109.65 L60.00,109.16 L60.50,108.66 L61.00,108.15 L61.50,107.64 L62.00,107.13 L62.50,106.62 L63.00,106.10 L63.50,105.58 L64.00,105.06 L64.50,104.53 L65.00,104.01 L65.50,103.48 L66.00,102.96 L66.50,102.43 L67.00,101.91 L67.50,101.39 L68.00,100.87 L68.50,100.35 L69.00,99.84 L69.50,99.33 L70.00,98.82 L70.50,98.32 L71.00,97.82 L71.50,97.33 L72.00,96.84 L72.50,96.36 L73.00,95.88 L73.50,95.41 L74.00,94.95 L74.50,94.49 L75.00,94.03 L75.50,93.58 L76.00,93.14 L76.50,92.70 L77.00,92.26 L77.50,91.82 L78.00,91.39 L78.50,90.97 L79.00,90.54 L79.50,90.12 L80.00,89.70 L80.50,89.28 L81.00,88.86 L81.50,88.45 L82.00,88.04 L82.50,87.62 L83.00,87.21 L83.50,86.80 L84.00,86.39 L84.50,85.98 L85.00,85.57 L85.50,85.15 L86.00,84.74 L86.50,84.33 L87.00,83.91 L87.50,83.49 L88.00,83.07 L88.50,82.65 L89.00,82.23 L89.50,81.81 L90.00,81.38 L90.50,80.95 L91.00,80.52 L91.50,80.09 L92.00,79.65 L92.50,79.22 L93.00,78.78 L93.50,78.34 L94.00,77.90 L94.50,77.46 L95.00,77.02 L95.50,76.57 L96.00,76.13 L96.50,75.68 L97.00,75.23 L97.50,74.79 L98.00,74.34 L98.50,73.89 L99.00,73.44 L99.50,72.99 L100.00,72.53 L100.50,72.08 L101.00,71.63 L101.50,71.18 L102.00,70.72 L102.50,70.27 L103.00,69.82 L103.50,69.36 L104.00,68.91 L104.50,68.46 L105.00,68.01 L105.50,67.56 L106.00,67.11 L106.50,66.67 L107.00,66.22 L107.50,65.79 L108.00,65.35 L108.50,64.92 L109.00,64.50 L109.50,64.08 L110.00,63.67 L110.50,63.26 L111.00,62.86 L111.50,62.46 L112.00,62.08 L112.50,61.70 L113.00,61.33 L113.50,60.97 L114.00,60.62 L114.50,60.28 L115.00,59.95 L115.50,59.63 L116.00,59.33 L116.50,59.03 L117.00,58.75 L117.50,58.47 L118.00,58.22 L118.50,57.97 L119.00,57.74 L119.50,57.52 L120.00,57.32 L120.50,57.13 L121.00,56.96 L121.50,56.80 L122.00,56.65 L122.50,56.51 L123.00,56.39 L123.50,56.27 L124.00,56.17 L124.50,56.08 L125.00,56.00 L125.50,55.92 L126.00,55.86 L126.50,55.81 L127.00,55.77 L127.50,55.73 L128.00,55.71 L128.50,55.69 L129.00,55.67 L129.50,55.67 L130.00,55.67 L130.50,55.68 L131.00,55.70 L131.50,55.72 L132.00,55.74 L132.50,55.77 L133.00,55.80 L133.50,55.84 L134.00,55.89 L134.50,55.93 L135.00,55.98 L135.50,56.03 L136.00,56.09 L136.50,56.14 L137.00,56.20 L137.50,56.26 L138.00,56.33 L138.50,56.40 L139.00,56.47 L139.50,56.54 L140.00,56.61 L140.50,56.69 L141.00,56.77 L141.50,56.86 L142.00,56.94 L142.50,57.03 L143.00,57.12 L143.50,57.22 L144.00,57.32 L144.50,57.42 L145.00,57.52 L145.50,57.62 L146.00,57.73 L146.50,57.84 L147.00,57.96 L147.50,58.08 L148.00,58.20 L148.50,58.32 L149.00,58.45 L149.50,58.57 L150.00,58.71 L150.50,58.84 L151.00,58.98 L151.50,59.12 L152.00,59.26 L152.50,59.41 L153.00,59.56 L153.50,59.71 L154.00,59.87 L154.50,60.03 L155.00,60.19 L155.50,60.35 L156.00,60.52 L156.50,60.69 L157.00,60.87 L157.50,61.04 L158.00,61.22 L158.50,61.41 L159.00,61.59 L159.50,61.78 L160.00,61.98 L160.50,62.17 L161.00,62.37 L161.50,62.57 L162.00,62.78 L162.50,62.99 L163.00,63.20 L163.50,63.42 L164.00,63.63 L164.50,63.86 L165.00,64.08 L165.50,64.31 L166.00,64.54 L166.50,64.78 L167.00,65.01 L167.50,65.26 L168.00,65.50 L168.50,65.75 L169.00,66.00 L169.50,66.26 L170.00,66.53 L170.50,66.79 L171.00,67.06 L171.50,67.34 L172.00,67.62 L172.50,67.91 L173.00,68.20 L173.50,68.50 L174.00,68.81 L174.50,69.12 L175.00,69.43 L175.50,69.76 L176.00,70.09 L176.50,70.42 L177.00,70.76 L177.50,71.11 L178.00,71.47 L178.50,71.84 L179.00,72.21 L179.50,72.59 L180.00,72.97 L180.50,73.37 L181.00,73.77 L181.50,74.18 L182.00,74.60 L182.50,75.03 L183.00,75.47 L183.50,75.91 L184.00,76.37 L184.50,76.83 L185.00,77.29 L185.50,77.76 L186.00,78.24 L186.50,78.73 L187.00,79.21 L187.50,79.71 L188.00,80.20 L188.50,80.71 L189.00,81.21 L189.50,81.72 L190.00,82.23 L190.50,82.74 L191.00,83.26 L191.50,83.77 L192.00,84.29 L192.50,84.81 L193.00,85.33 L193.50,85.84 L194.00,86.36 L194.50,86.88 L195.00,87.39 L195.50,87.91 L196.00,88.42 L196.50,88.93 L197.00,89.43 L197.50,89.93 L198.00,90.43 L198.50,90.93 L199.00,91.42 L199.50,91.91 L200.00,92.39 L200.50,92.87 L201.00,93.35 L201.50,93.82 L202.00,94.29 L202.50,94.76 L203.00,95.22 L203.50,95.69 L204.00,96.15 L204.50,96.61 L205.00,97.07 L205.50,97.52 L206.00,97.98 L206.50,98.43 L207.00,98.88 L207.50,99.33 L208.00,99.78 L208.50,100.24 L209.00,100.69 L209.50,101.14 L210.00,101.59 L210.50,102.04 L211.00,102.49 L211.50,102.94 L212.00,103.39 L212.50,103.84 L213.00,104.30 L213.50,104.75 L214.00,105.21 L214.50,105.67 L215.00,106.13 L215.50,106.59 L216.00,107.06 L216.50,107.53 L217.00,108.01 L217.50,108.49 L218.00,108.98 L218.50,109.47 L219.00,109.97 L219.50,110.48 L220.00,110.99 L220.50,111.52 L221.00,112.05 L221.50,112.59 L222.00,113.15 L222.50,113.71 L223.00,114.29 L223.50,114.87 L224.00,115.47 L224.50,116.09 L225.00,116.71 L225.50,117.36 L226.00,118.01 L226.50,118.68 L227.00,119.37 L227.50,120.08 L228.00,120.80 L228.50,121.54 L229.00,122.30 L229.50,123.07 L230.00,123.87 L230.50,124.68 L231.00,125.50 L231.50,126.34 L232.00,127.20 L232.50,128.06 L233.00,128.93 L233.50,129.82 L234.00,130.71 L234.50,131.61 L235.00,132.51 L235.50,133.42 L236.00,134.33 L236.50,135.25 L237.00,136.16 L237.50,137.08 L238.00,137.99 L238.50,138.90 L239.00,139.80 L239.50,140.70 L240.00,141.59 L240.50,142.48 L241.00,143.36 L241.50,144.22 L242.00,145.08 L242.50,145.92 L243.00,146.75 L243.50,147.56 L244.00,148.36 L244.50,149.14 L245.00,149.90 L245.50,150.64 L246.00,151.36 L246.50,152.06 L247.00,152.74 L247.50,153.41 L248.00,154.05 L248.50,154.68 L249.00,155.29 L249.50,155.89 L250.00,156.47 L250.50,157.03 L251.00,157.58 L251.50,158.11 L252.00,158.63 L252.50,159.13 L253.00,159.62 L253.50,160.09 L254.00,160.55 L254.50,161.00 L255.00,161.44 L255.50,161.86 L256.00,162.27 L256.50,162.67 L257.00,163.06 L257.50,163.44 L258.00,163.81 L258.50,164.17 L259.00,164.52 L259.50,164.86 L260.00,165.19 L260.50,165.51 L261.00,165.83 L261.50,166.14 L262.00,166.44 L262.50,166.74 L263.00,167.03 L263.50,167.32 L264.00,167.61 L264.50,167.89 L265.00,168.17 L265.50,168.45 L266.00,168.73 L266.50,169.01 L267.00,169.29 L267.50,169.57 L268.00,169.86 L268.50,170.15 L269.00,170.44 L269.50,170.74 L270.00,171.04 L270.50,171.35 L271.00,171.66 L271.50,171.98 L272.00,172.31 L272.50,172.65 L273.00,173.00 L273.50,173.36 L274.00,173.73 L274.50,174.11 L275.00,174.51 L275.50,174.91 L276.00,175.34 L276.50,175.77 L277.00,176.22 L277.50,176.68 L278.00,177.16 L278.50,177.65 L279.00,178.14 L279.50,178.65 L280.00,179.18 L280.50,179.71 L281.00,180.24 L281.50,180.79 L282.00,181.35 L282.50,181.91 L283.00,182.48 L283.50,183.06 L284.00,183.64 L284.50,184.23 L285.00,184.82 L285.50,185.41 L286.00,186.01 L286.50,186.61 L287.00,187.22 L287.50,187.82 L288.00,188.43 L288.50,189.03 L289.00,189.64 L289.50,190.24 L290.00,190.84 L290.50,191.45 L291.00,192.04 L291.50,192.64 L292.00,193.23 L292.50,193.81 L293.00,194.40 L293.50,194.97 L294.00,195.54 L294.50,196.11 L295.00,196.67 L295.50,197.22 L296.00,197.77 L296.50,198.31 L297.00,198.84 L297.50,199.36 L298.00,199.87 L298.50,200.38 L299.00,200.87 L299.50,201.36 L300.00,201.83 L300.50,202.29 L301.00,202.75 L301.50,203.19 L302.00,203.61 L302.50,204.03 L303.00,204.43 L303.50,204.82 L304.00,205.20 L304.50,205.56 L305.00,205.91 L305.50,206.24 L306.00,206.56 L306.50,206.86 L307.00,207.15 L307.50,207.42 L308.00,207.67 L308.50,207.90 L309.00,208.13 L309.50,208.33 L310.00,208.52 L310.50,208.69 L311.00,208.85 L311.50,209.00 L312.00,209.13 L312.50,209.24 L313.00,209.35 L313.50,209.43 L314.00,209.51 L314.50,209.57 L315.00,209.62 L315.50,209.65 L316.00,209.67 L316.50,209.68 L317.00,209.68 L317.50,209.67 L318.00,209.64 L318.50,209.60 L319.00,209.56 L319.50,209.50 L320.00,209.42 L320.50,209.34 L321.00,209.25 L321.50,209.15 L322.00,209.04 L322.50,208.92 L323.00,208.79 L323.50,208.65 L324.00,208.50 L324.50,208.34 L325.00,208.18 L325.50,208.01 L326.00,207.84 L326.50,207.66 L327.00,207.48 L327.50,207.30 L328.00,207.11 L328.50,206.93 L329.00,206.75 L329.50,206.56 L330.00,206.38 L330.50,206.20 L331.00,206.03 L331.50,205.86 L332.00,205.69 L332.50,205.53 L333.00,205.38 L333.50,205.24 L334.00,205.10 L334.50,204.98 L335.00,204.86 L335.50,204.76 L336.00,204.67 L336.50,204.59 L337.00,204.53 L337.50,204.48 L338.00,204.44 L338.50,204.43 L339.00,204.43 L339.50,204.45 L340.00,204.48 L340.50,204.54 L341.00,204.61 L341.50,204.69 L342.00,204.79 L342.50,204.90 L343.00,205.03 L343.50,205.17 L344.00,205.32 L344.50,205.49 L345.00,205.66 L345.50,205.84 L346.00,206.04 L346.50,206.24 L347.00,206.45 L347.50,206.67 L348.00,206.89 L348.50,207.12 L349.00,207.35 L349.50,207.59 L350.00,207.83 L350.50,208.08 L351.00,208.33 L351.50,208.58 L352.00,208.83 L352.50,209.08 L353.00,209.33 L353.50,209.58 L354.00,209.82 L354.50,210.07 L355.00,210.31 L355.50,210.55 L356.00,210.79 L356.50,211.02 L357.00,211.25 L357.50,211.48 L358.00,211.70 L358.50,211.91 L359.00,212.13 L359.50,212.34 L360.00,212.54 L360.50,212.74 L361.00,212.94 L361.50,213.12 L362.00,213.31 L362.50,213.49 L363.00,213.66 L363.50,213.83 L364.00,213.99 L364.50,214.14 L365.00,214.29 L365.50,214.43 L366.00,214.56 L366.50,214.69 L367.00,214.81 L367.50,214.92 L368.00,215.02 L368.50,215.12 L369.00,215.20 L369.50,215.28 L370.00,215.35 L370.50,215.42 L371.00,215.47 L371.50,215.51 L372.00,215.54 L372.50,215.56 L373.00,215.57 L373.50,215.56 L374.00,215.54 L374.50,215.51 L375.00,215.46 L375.50,215.39 L376.00,215.31 L376.50,215.21 L377.00,215.10 L377.50,214.96 L378.00,214.80 L378.50,214.63 L379.00,214.43 L379.50,214.21 L380.00,213.97 L380.50,213.71 L381.00,213.42 L381.50,213.11 L382.00,212.77 L382.50,212.41 L383.00,212.02 L383.50,211.60 L384.00,211.15 L384.50,210.68 L385.00,210.17 L385.50,209.64 L386.00,209.07 L386.50,208.48 L387.00,207.85 L387.50,207.19 L388.00,206.50 L388.50,205.78 L389.00,205.03 L389.50,204.26 L390.00,203.45 L390.50,202.62 L391.00,201.77 L391.50,200.88 L392.00,199.97 L392.50,199.04 L393.00,198.08 L393.50,197.10 L394.00,196.10 L394.50,195.07 L395.00,194.02 L395.50,192.96 L396.00,191.87 L396.50,190.76 L397.00,189.63 L397.50,188.48 L398.00,187.31 L398.50,186.13 L399.00,184.92 L399.50,183.70 L400.00,182.47 L400.50,181.22 L401.00,179.96 L401.50,178.68 L402.00,177.38 L402.50,176.08 L403.00,174.76 L403.50,173.43 L404.00,172.10 L404.50,170.75 L405.00,169.41 L405.50,168.05 L406.00,166.70 L406.50,165.34 L407.00,163.99 L407.50,162.63 L408.00,161.29 L408.50,159.94 L409.00,158.60 L409.50,157.27 L410.00,155.96 L410.50,154.65 L411.00,153.35 L411.50,152.07 L412.00,150.81 L412.50,149.56 L413.00,148.33 L413.50,147.12 L414.00,145.93 L414.50,144.77 L415.00,143.63 L415.50,142.52 L416.00,141.44 L416.50,140.39 L417.00,139.36 L417.50,138.37 L418.00,137.41 L418.50,136.49 L419.00,135.59 L419.50,134.72 L420.00,133.88 L420.50,133.07 L421.00,132.28 L421.50,131.52 L422.00,130.78 L422.50,130.07 L423.00,129.38 L423.50,128.71 L424.00,128.06 L424.50,127.44 L425.00,126.83 L425.50,126.24 L426.00,125.67 L426.50,125.11 L427.00,124.57 L427.50,124.05 L428.00,123.54 L428.50,123.04 L429.00,122.55 L429.50,122.08 L430.00,121.61 L430.50,121.16 L431.00,120.71 L431.50,120.28 L432.00,119.84 L432.50,119.42 L433.00,119.00 L433.50,118.58 L434.00,118.17 L434.50,117.76 L435.00,117.35 L435.50,116.94 L436.00,116.53 L436.50,116.12 L437.00,115.71 L437.50,115.29 L438.00,114.87 L438.50,114.45 L439.00,114.02 L439.50,113.58 L440.00,113.14 L440.50,112.68 L441.00,112.22 L441.50,111.75 L442.00,111.27 L442.50,110.77 L443.00,110.26 L443.50,109.74 L444.00,109.21 L444.50,108.65 L445.00,108.09 L445.50,107.50 L446.00,106.90 L446.50,106.28 L447.00,105.63 L447.50,104.97 L448.00,104.29 L448.50,103.58 L449.00,102.85 L449.50,102.09 L450.00,101.31 L450.50,100.51 L451.00,99.69 L451.50,98.86 L452.00,98.00 L452.50,97.13 L453.00,96.24 L453.50,95.34 L454.00,94.43 L454.50,93.51 L455.00,92.58 L455.50,91.64 L456.00,90.70 L456.50,89.75 L457.00,88.80 L457.50,87.84 L458.00,86.89 L458.50,85.94 L459.00,84.99 L459.50,84.04 L460.00,83.10 L460.50,82.16 L461.00,81.24 L461.50,80.32 L462.00,79.41 L462.50,78.52 L463.00,77.64 L463.50,76.77 L464.00,75.92 L464.50,75.09 L465.00,74.28 L465.50,73.49 L466.00,72.72 L466.50,71.97 L467.00,71.24 L467.50,70.52 L468.00,69.83 L468.50,69.15 L469.00,68.49 L469.50,67.84 L470.00,67.21 L470.50,66.60 L471.00,66.00 L471.50,65.41 L472.00,64.84 L472.50,64.28 L473.00,63.73 L473.50,63.19 L474.00,62.67 L474.50,62.15 L475.00,61.64 L475.50,61.15 L476.00,60.66 L476.50,60.18 L477.00,59.71 L477.50,59.24 L478.00,58.78 L478.50,58.33 L479.00,57.88 L479.50,57.43 L480.00,56.99 L480.50,56.56 L481.00,56.12 L481.50,55.70 L482.00,55.27 L482.50,54.85 L483.00,54.43 L483.50,54.02 L484.00,53.61 L484.50,53.20 L485.00,52.80 L485.50,52.40 L486.00,52.01 L486.50,51.62 L487.00,51.24 L487.50,50.86 L488.00,50.49 L488.50,50.12 L489.00,49.76 L489.50,49.40 L490.00,49.05 L490.50,48.70 L491.00,48.36 L491.50,48.02 L492.00,47.69 L492.50,47.37 L493.00,47.05 L493.50,46.74 L494.00,46.43 L494.50,46.13 L495.00,45.84 L495.50,45.55 L496.00,45.27 L496.50,44.99 L497.00,44.73 L497.50,44.47 L498.00,44.21 L498.50,43.97 L499.00,43.73 L499.50,43.49 L500.00,43.27 L500.35,43.13 L500.70,43.01 L501.05,42.87 L501.40,42.68 L501.75,42.46 L502.10,42.27 L502.45,42.16 L502.80,42.15 L503.15,42.17 L503.50,42.14 L503.85,41.97 L504.20,41.68 L504.55,41.36 L504.90,41.15 L505.25,41.13 L505.60,41.28 L505.95,41.47 L506.30,41.52 L506.65,41.33 L507.00,40.94 L507.35,40.52 L507.70,40.29 L508.05,40.36 L508.40,40.68 L508.75,41.03 L509.10,41.18 L509.45,40.97 L509.80,40.48 L510.15,39.97 L510.50,39.71 L510.85,39.87 L511.20,40.36 L511.55,40.89 L511.90,41.12 L512.25,40.88 L512.60,40.31 L512.95,39.75 L513.30,39.51 L513.65,39.75 L514.00,40.33 L514.35,40.91 L514.70,41.16 L515.05,40.94 L515.40,40.40 L515.75,39.86 L516.10,39.65 L516.45,39.91 L516.80,40.51 L517.15,41.11 L517.50,41.38 L517.85,41.18 L518.20,40.66 L518.55,40.13 L518.90,39.94 L519.25,40.22 L519.60,40.83 L519.95,41.44 L520.30,41.72 L520.65,41.53 L521.00,41.01 L521.35,40.49 L521.70,40.30 L522.05,40.58 L522.40,41.20 L522.75,41.81 L523.10,42.09 L523.45,41.90 L523.80,41.38 L524.15,40.85 L524.50,40.66 L524.85,40.94 L525.20,41.54 L525.55,42.14 L525.90,42.41 L526.25,42.21 L526.60,41.68 L526.95,41.14 L527.30,40.93 L527.65,41.19 L528.00,41.77 L528.35,42.36 L528.70,42.61 L529.05,42.38 L529.40,41.83 L529.75,41.27 L530.10,41.03 L530.45,41.26 L530.80,41.82 L531.15,42.37 L531.50,42.59 L531.85,42.34 L532.20,41.75 L532.55,41.15 L532.90,40.88 L533.25,41.08 L533.60,41.60 L533.95,42.11 L534.30,42.29 L534.65,41.99 L535.00,41.36 L535.35,40.72 L535.70,40.40 L536.05,40.55 L536.40,41.02 L536.75,41.49 L537.10,41.62 L537.45,41.27 L537.80,40.58 L538.15,39.88 L538.50,39.51 L538.85,39.60 L539.20,40.02 L539.55,40.42 L539.90,40.49 L540.25,40.08 L540.60,39.33 L540.95,38.57 L541.30,38.13 L541.65,38.15 L542.00,38.50 L542.35,38.84 L542.70,38.83 L542.90,38.61" stroke="#2fb8ee"/>
<path d="M40.00,242.94 L40.50,242.96 L41.00,242.99 L41.50,243.01 L42.00,243.03 L42.50,243.05 L43.00,243.07 L43.50,243.08 L44.00,243.10 L44.50,243.12 L45.00,243.14 L45.50,243.15 L46.00,243.17 L46.50,243.18 L47.00,243.19 L47.50,243.20 L48.00,243.20 L48.50,243.20 L49.00,243.20 L49.50,243.20 L50.00,243.20 L50.50,243.20 L51.00,243.20 L51.50,243.20 L52.00,243.20 L52.50,243.20 L53.00,243.20 L53.50,243.20 L54.00,243.20 L54.50,243.20 L55.00,243.20 L55.50,243.20 L56.00,243.20 L56.50,243.20 L57.00,243.20 L57.50,243.20 L58.00,243.20 L58.50,243.20 L59.00,243.20 L59.50,243.20 L60.00,243.20 L60.50,243.20 L61.00,243.20 L61.50,243.20 L62.00,243.20 L62.50,243.20 L63.00,243.20 L63.50,243.20 L64.00,243.20 L64.50,243.20 L65.00,243.20 L65.50,243.20 L66.00,243.20 L66.50,243.20 L67.00,243.20 L67.50,243.20 L68.00,243.20 L68.50,243.20 L69.00,243.20 L69.50,243.20 L70.00,243.20 L70.50,243.20 L71.00,243.20 L71.50,243.20 L72.00,243.20 L72.50,243.20 L73.00,243.20 L73.50,243.20 L74.00,243.20 L74.50,243.20 L75.00,243.20 L75.50,243.20 L76.00,243.20 L76.50,243.20 L77.00,243.19 L77.50,243.18 L78.00,243.18 L78.50,243.17 L79.00,243.16 L79.50,243.15 L80.00,243.14 L80.50,243.14 L81.00,243.13 L81.50,243.12 L82.00,243.11 L82.50,243.11 L83.00,243.10 L83.50,243.09 L84.00,243.09 L84.50,243.08 L85.00,243.07 L85.50,243.06 L86.00,243.06 L86.50,243.05 L87.00,243.04 L87.50,243.04 L88.00,243.03 L88.50,243.03 L89.00,243.02 L89.50,243.01 L90.00,243.01 L90.50,243.00 L91.00,243.00 L91.50,242.99 L92.00,242.99 L92.50,242.98 L93.00,242.98 L93.50,242.98 L94.00,242.97 L94.50,242.97 L95.00,242.97 L95.50,242.96 L96.00,242.96 L96.50,242.96 L97.00,242.96 L97.50,242.96 L98.00,242.96 L98.50,242.96 L99.00,242.95 L99.50,242.96 L100.00,242.96 L100.50,242.96 L101.00,242.96 L101.50,242.96 L102.00,242.96 L102.50,242.96 L103.00,242.97 L103.50,242.97 L104.00,242.98 L104.50,242.98 L105.00,242.99 L105.50,242.99 L106.00,243.00 L106.50,243.00 L107.00,243.01 L107.50,243.02 L108.00,243.02 L108.50,243.03 L109.00,243.04 L109.50,243.05 L110.00,243.05 L110.50,243.06 L111.00,243.07 L111.50,243.08 L112.00,243.09 L112.50,243.10 L113.00,243.11 L113.50,243.12 L114.00,243.13 L114.50,243.14 L115.00,243.15 L115.50,243.16 L116.00,243.17 L116.50,243.18 L117.00,243.19 L117.50,243.20 L118.00,243.20 L118.50,243.20 L119.00,243.20 L119.50,243.20 L120.00,243.20 L120.50,243.20 L121.00,243.20 L121.50,243.20 L122.00,243.20 L122.50,243.20 L123.00,243.20 L123.50,243.20 L124.00,243.20 L124.50,243.20 L125.00,243.20 L125.50,243.20 L126.00,243.20 L126.50,243.20 L127.00,243.20 L127.50,243.20 L128.00,243.20 L128.50,243.20 L129.00,243.20 L129.50,243.20 L130.00,243.20 L130.50,243.20 L131.00,243.20 L131.50,243.20 L132.00,243.20 L132.50,243.20 L133.00,243.20 L133.50,243.20 L134.00,243.20 L134.50,243.20 L135.00,243.20 L135.50,243.20 L136.00,243.20 L136.50,243.20 L137.00,243.20 L137.50,243.20 L138.00,243.20 L138.50,243.20 L139.00,243.20 L139.50,243.20 L140.00,243.20 L140.50,243.20 L141.00,243.20 L141.50,243.20 L142.00,243.20 L142.50,243.20 L143.00,243.20 L143.50,243.20 L144.00,243.20 L144.50,243.20 L145.00,243.20 L145.50,243.20 L146.00,243.20 L146.50,243.20 L147.00,243.20 L147.50,243.20 L148.00,243.20 L148.50,243.20 L149.00,243.20 L149.50,243.20 L150.00,243.20 L150.50,243.20 L151.00,243.18 L151.50,243.16 L152.00,243.14 L152.50,243.11 L153.00,243.09 L153.50,243.06 L154.00,243.03 L154.50,243.00 L155.00,242.97 L155.50,242.94 L156.00,242.91 L156.50,242.87 L157.00,242.84 L157.50,242.80 L158.00,242.77 L158.50,242.73 L159.00,242.69 L159.50,242.65 L160.00,242.60 L160.50,242.56 L161.00,242.52 L161.50,242.47 L162.00,242.42 L162.50,242.37 L163.00,242.32 L163.50,242.27 L164.00,242.22 L164.50,242.16 L165.00,242.11 L165.50,242.05 L166.00,241.99 L166.50,241.93 L167.00,241.87 L167.50,241.81 L168.00,241.74 L168.50,241.67 L169.00,241.60 L169.50,241.53 L170.00,241.45 L170.50,241.37 L171.00,241.29 L171.50,241.20 L172.00,241.11 L172.50,241.01 L173.00,240.91 L173.50,240.81 L174.00,240.70 L174.50,240.58 L175.00,240.46 L175.50,240.34 L176.00,240.21 L176.50,240.07 L177.00,239.92 L177.50,239.77 L178.00,239.61 L178.50,239.45 L179.00,239.28 L179.50,239.10 L180.00,238.91 L180.50,238.72 L181.00,238.51 L181.50,238.30 L182.00,238.08 L182.50,237.85 L183.00,237.61 L183.50,237.36 L184.00,237.10 L184.50,236.83 L185.00,236.54 L185.50,236.25 L186.00,235.93 L186.50,235.60 L187.00,235.26 L187.50,234.89 L188.00,234.51 L188.50,234.12 L189.00,233.70 L189.50,233.26 L190.00,232.80 L190.50,232.32 L191.00,231.82 L191.50,231.29 L192.00,230.74 L192.50,230.16 L193.00,229.56 L193.50,228.93 L194.00,228.27 L194.50,227.59 L195.00,226.88 L195.50,226.13 L196.00,225.36 L196.50,224.55 L197.00,223.72 L197.50,222.85 L198.00,221.94 L198.50,221.00 L199.00,220.03 L199.50,219.03 L200.00,218.00 L200.50,216.94 L201.00,215.85 L201.50,214.75 L202.00,213.62 L202.50,212.47 L203.00,211.30 L203.50,210.12 L204.00,208.93 L204.50,207.72 L205.00,206.51 L205.50,205.28 L206.00,204.05 L206.50,202.82 L207.00,201.58 L207.50,200.34 L208.00,199.10 L208.50,197.87 L209.00,196.64 L209.50,195.42 L210.00,194.21 L210.50,193.01 L211.00,191.83 L211.50,190.65 L212.00,189.50 L212.50,188.36 L213.00,187.25 L213.50,186.15 L214.00,185.08 L214.50,184.04 L215.00,183.02 L215.50,182.03 L216.00,181.07 L216.50,180.13 L217.00,179.21 L217.50,178.32 L218.00,177.46 L218.50,176.62 L219.00,175.81 L219.50,175.02 L220.00,174.26 L220.50,173.52 L221.00,172.80 L221.50,172.11 L222.00,171.45 L222.50,170.81 L223.00,170.19 L223.50,169.59 L224.00,169.02 L224.50,168.48 L225.00,167.95 L225.50,167.45 L226.00,166.98 L226.50,166.52 L227.00,166.09 L227.50,165.68 L228.00,165.30 L228.50,164.93 L229.00,164.59 L229.50,164.27 L230.00,163.98 L230.50,163.70 L231.00,163.45 L231.50,163.22 L232.00,163.01 L232.50,162.82 L233.00,162.65 L233.50,162.50 L234.00,162.38 L234.50,162.27 L235.00,162.19 L235.50,162.12 L236.00,162.08 L236.50,162.05 L237.00,162.05 L237.50,162.07 L238.00,162.10 L238.50,162.16 L239.00,162.23 L239.50,162.33 L240.00,162.44 L240.50,162.58 L241.00,162.73 L241.50,162.90 L242.00,163.09 L242.50,163.30 L243.00,163.52 L243.50,163.77 L244.00,164.03 L244.50,164.31 L245.00,164.61 L245.50,164.93 L246.00,165.26 L246.50,165.61 L247.00,165.98 L247.50,166.37 L248.00,166.77 L248.50,167.19 L249.00,167.63 L249.50,168.08 L250.00,168.55 L250.50,169.03 L251.00,169.54 L251.50,170.06 L252.00,170.59 L252.50,171.14 L253.00,171.71 L253.50,172.29 L254.00,172.88 L254.50,173.49 L255.00,174.12 L255.50,174.76 L256.00,175.42 L256.50,176.09 L257.00,176.78 L257.50,177.48 L258.00,178.19 L258.50,178.92 L259.00,179.66 L259.50,180.42 L260.00,181.19 L260.50,181.97 L261.00,182.77 L261.50,183.58 L262.00,184.40 L262.50,185.24 L263.00,186.08 L263.50,186.94 L264.00,187.80 L264.50,188.67 L265.00,189.54 L265.50,190.42 L266.00,191.31 L266.50,192.20 L267.00,193.09 L267.50,193.98 L268.00,194.87 L268.50,195.76 L269.00,196.65 L269.50,197.54 L270.00,198.42 L270.50,199.30 L271.00,200.17 L271.50,201.04 L272.00,201.90 L272.50,202.75 L273.00,203.59 L273.50,204.42 L274.00,205.23 L274.50,206.04 L275.00,206.83 L275.50,207.61 L276.00,208.37 L276.50,209.11 L277.00,209.84 L277.50,210.54 L278.00,211.23 L278.50,211.91 L279.00,212.56 L279.50,213.21 L280.00,213.83 L280.50,214.45 L281.00,215.05 L281.50,215.64 L282.00,216.23 L282.50,216.80 L283.00,217.36 L283.50,217.92 L284.00,218.47 L284.50,219.02 L285.00,219.56 L285.50,220.09 L286.00,220.63 L286.50,221.16 L287.00,221.69 L287.50,222.22 L288.00,222.76 L288.50,223.29 L289.00,223.83 L289.50,224.38 L290.00,224.92 L290.50,225.48 L291.00,226.04 L291.50,226.61 L292.00,227.18 L292.50,227.77 L293.00,228.36 L293.50,228.96 L294.00,229.56 L294.50,230.17 L295.00,230.76 L295.50,231.36 L296.00,231.94 L296.50,232.52 L297.00,233.08 L297.50,233.63 L298.00,234.16 L298.50,234.67 L299.00,235.16 L299.50,235.63 L300.00,236.07 L300.50,236.48 L301.00,236.86 L301.50,237.21 L302.00,237.54 L302.50,237.84 L303.00,238.13 L303.50,238.39 L304.00,238.63 L304.50,238.86 L305.00,239.06 L305.50,239.26 L306.00,239.44 L306.50,239.61 L307.00,239.77 L307.50,239.92 L308.00,240.06 L308.50,240.20 L309.00,240.33 L309.50,240.45 L310.00,240.57 L310.50,240.69 L311.00,240.80 L311.50,240.90 L312.00,241.00 L312.50,241.10 L313.00,241.19 L313.50,241.27 L314.00,241.36 L314.50,241.43 L315.00,241.51 L315.50,241.58 L316.00,241.65 L316.50,241.71 L317.00,241.77 L317.50,241.83 L318.00,241.88 L318.50,241.93 L319.00,241.98 L319.50,242.03 L320.00,242.07 L320.50,242.12 L321.00,242.16 L321.50,242.19 L322.00,242.23 L322.50,242.27 L323.00,242.30 L323.50,242.33 L324.00,242.36 L324.50,242.39 L325.00,242.42 L325.50,242.45 L326.00,242.47 L326.50,242.50 L327.00,242.53 L327.50,242.55 L328.00,242.57 L328.50,242.60 L329.00,242.62 L329.50,242.64 L330.00,242.66 L330.50,242.68 L331.00,242.70 L331.50,242.71 L332.00,242.73 L332.50,242.75 L333.00,242.76 L333.50,242.78 L334.00,242.79 L334.50,242.81 L335.00,242.82 L335.50,242.83 L336.00,242.84 L336.50,242.85 L337.00,242.86 L337.50,242.87 L338.00,242.88 L338.50,242.89 L339.00,242.90 L339.50,242.91 L340.00,242.92 L340.50,242.92 L341.00,242.93 L341.50,242.94 L342.00,242.94 L342.50,242.95 L343.00,242.95 L343.50,242.96 L344.00,242.96 L344.50,242.96 L345.00,242.97 L345.50,242.97 L346.00,242.97 L346.50,242.98 L347.00,242.98 L347.50,242.98 L348.00,242.98 L348.50,242.98 L349.00,242.98 L349.50,242.99 L350.00,242.99 L350.50,242.99 L351.00,242.99 L351.50,242.99 L352.00,242.99 L352.50,242.99 L353.00,242.99 L353.50,242.99 L354.00,242.99 L354.50,242.99 L355.00,242.99 L355.50,242.99 L356.00,242.99 L356.50,242.99 L357.00,242.99 L357.50,242.99 L358.00,242.99 L358.50,242.99 L359.00,243.00 L359.50,243.00 L360.00,243.00 L360.50,243.00 L361.00,243.00 L361.50,243.00 L362.00,243.00 L362.50,243.00 L363.00,243.00 L363.50,243.00 L364.00,243.00 L364.50,243.00 L365.00,243.00 L365.50,243.00 L366.00,243.00 L366.50,243.00 L367.00,243.00 L367.50,243.00 L368.00,243.00 L368.50,243.00 L369.00,243.01 L369.50,243.01 L370.00,243.01 L370.50,243.01 L371.00,243.01 L371.50,243.01 L372.00,243.01 L372.50,243.01 L373.00,243.01 L373.50,243.01 L374.00,243.01 L374.50,243.01 L375.00,243.01 L375.50,243.01 L376.00,243.01 L376.50,243.01 L377.00,243.01 L377.50,243.02 L378.00,243.02 L378.50,243.02 L379.00,243.02 L379.50,243.02 L380.00,243.02 L380.50,243.02 L381.00,243.02 L381.50,243.02 L382.00,243.02 L382.50,243.02 L383.00,243.02 L383.50,243.02 L384.00,243.02 L384.50,243.02 L385.00,243.02 L385.50,243.02 L386.00,243.02 L386.50,243.02 L387.00,243.02 L387.50,243.02 L388.00,243.02 L388.50,243.02 L389.00,243.02 L389.50,243.02 L390.00,243.02 L390.50,243.02 L391.00,243.02 L391.50,243.03 L392.00,243.03 L392.50,243.03 L393.00,243.03 L393.50,243.03 L394.00,243.03 L394.50,243.03 L395.00,243.03 L395.50,243.03 L396.00,243.03 L396.50,243.03 L397.00,243.02 L397.50,243.02 L398.00,243.02 L398.50,243.02 L399.00,243.02 L399.50,243.02 L400.00,243.02 L400.50,243.02 L401.00,243.02 L401.50,243.02 L402.00,243.02 L402.50,243.02 L403.00,243.02 L403.50,243.02 L404.00,243.02 L404.50,243.02 L405.00,243.02 L405.50,243.02 L406.00,243.02 L406.50,243.02 L407.00,243.02 L407.50,243.01 L408.00,243.01 L408.50,243.01 L409.00,243.01 L409.50,243.01 L410.00,243.01 L410.50,243.01 L411.00,243.01 L411.50,243.01 L412.00,243.01 L412.50,243.00 L413.00,243.00 L413.50,243.00 L414.00,243.00 L414.50,243.00 L415.00,243.00 L415.50,243.00 L416.00,242.99 L416.50,242.99 L417.00,242.99 L417.50,242.99 L418.00,242.99 L418.50,242.99 L419.00,242.98 L419.50,242.98 L420.00,242.98 L420.50,242.98 L421.00,242.98 L421.50,242.98 L422.00,242.97 L422.50,242.97 L423.00,242.97 L423.50,242.97 L424.00,242.97 L424.50,242.96 L425.00,242.96 L425.50,242.96 L426.00,242.96 L426.50,242.96 L427.00,242.95 L427.50,242.95 L428.00,242.95 L428.50,242.95 L429.00,242.95 L429.50,242.95 L430.00,242.95 L430.50,242.94 L431.00,242.94 L431.50,242.94 L432.00,242.94 L432.50,242.94 L433.00,242.94 L433.50,242.94 L434.00,242.94 L434.50,242.94 L435.00,242.94 L435.50,242.94 L436.00,242.94 L436.50,242.94 L437.00,242.94 L437.50,242.94 L438.00,242.94 L438.50,242.94 L439.00,242.94 L439.50,242.95 L440.00,242.95 L440.50,242.95 L441.00,242.95 L441.50,242.95 L442.00,242.96 L442.50,242.96 L443.00,242.96 L443.50,242.97 L444.00,242.97 L444.50,242.97 L445.00,242.98 L445.50,242.98 L446.00,242.99 L446.50,242.99 L447.00,243.00 L447.50,243.00 L448.00,243.01 L448.50,243.01 L449.00,243.02 L449.50,243.03 L450.00,243.04 L450.50,243.04 L451.00,243.05 L451.50,243.06 L452.00,243.07 L452.50,243.07 L453.00,243.08 L453.50,243.09 L454.00,243.10 L454.50,243.11 L455.00,243.11 L455.50,243.12 L456.00,243.13 L456.50,243.13 L457.00,243.14 L457.50,243.14 L458.00,243.15 L458.50,243.15 L459.00,243.15 L459.50,243.16 L460.00,243.16 L460.50,243.16 L461.00,243.15 L461.50,243.15 L462.00,243.15 L462.50,243.14 L463.00,243.14 L463.50,243.13 L464.00,243.12 L464.50,243.11 L465.00,243.10 L465.50,243.08 L466.00,243.06 L466.50,243.05 L467.00,243.03 L467.50,243.00 L468.00,242.98 L468.50,242.95 L469.00,242.93 L469.50,242.90 L470.00,242.86 L470.50,242.83 L471.00,242.79 L471.50,242.75 L472.00,242.71 L472.50,242.66 L473.00,242.61 L473.50,242.56 L474.00,242.51 L474.50,242.45 L475.00,242.39 L475.50,242.33 L476.00,242.26 L476.50,242.19 L477.00,242.12 L477.50,242.04 L478.00,241.96 L478.50,241.88 L479.00,241.79 L479.50,241.70 L480.00,241.61 L480.50,241.51 L481.00,241.41 L481.50,241.30 L482.00,241.19 L482.50,241.08 L483.00,240.96 L483.50,240.84 L484.00,240.71 L484.50,240.58 L485.00,240.45 L485.50,240.31 L486.00,240.16 L486.50,240.01 L487.00,239.85 L487.50,239.69 L488.00,239.53 L488.50,239.36 L489.00,239.18 L489.50,239.00 L490.00,238.81 L490.50,238.61 L491.00,238.41 L491.50,238.20 L492.00,237.99 L492.50,237.77 L493.00,237.55 L493.50,237.31 L494.00,237.07 L494.50,236.83 L495.00,236.58 L495.50,236.32 L496.00,236.05 L496.50,235.77 L497.00,235.49 L497.50,235.20 L498.00,234.91 L498.50,234.60 L499.00,234.29 L499.50,233.97 L500.00,233.64 L500.50,233.31 L501.00,232.96 L501.50,232.61 L502.00,232.25 L502.50,231.88 L503.00,231.50 L503.50,231.12 L504.00,230.72 L504.50,230.32 L505.00,229.90 L505.50,229.48 L506.00,229.05 L506.50,228.60 L507.00,228.15 L507.50,227.69 L508.00,227.22 L508.50,226.74 L509.00,226.25 L509.50,225.75 L510.00,225.24 L510.50,224.71 L511.00,224.18 L511.50,223.64 L512.00,223.09 L512.50,222.52 L513.00,221.95 L513.50,221.36 L514.00,220.77 L514.50,220.16 L515.00,219.55 L515.50,218.93 L516.00,218.29 L516.50,217.65 L517.00,217.00 L517.50,216.34 L518.00,215.67 L518.50,215.00 L519.00,214.32 L519.50,213.63 L520.00,212.93 L520.50,212.22 L521.00,211.51 L521.50,210.79 L522.00,210.07 L522.50,209.34 L523.00,208.60 L523.50,207.86 L524.00,207.11 L524.50,206.35 L525.00,205.59 L525.50,204.83 L526.00,204.06 L526.50,203.29 L527.00,202.51 L527.50,201.73 L528.00,200.95 L528.50,200.16 L529.00,199.37 L529.50,198.58 L530.00,197.78 L530.50,196.98 L531.00,196.18 L531.50,195.37 L532.00,194.57 L532.50,193.76 L533.00,192.95 L533.50,192.14 L534.00,191.33 L534.50,190.52 L535.00,189.71 L535.50,188.90 L536.00,188.09 L536.50,187.28 L537.00,186.46 L537.50,185.65 L538.00,184.84 L538.50,184.04 L539.00,183.23 L539.50,182.42 L540.00,181.62 L540.50,180.82 L541.00,180.02 L541.50,179.22 L542.00,178.43 L542.50,177.64 L543.00,176.85" stroke="#4a7d26"/>
<path d="M40.00,241.08 L40.50,241.22 L41.00,241.35 L41.50,241.48 L42.00,241.60 L42.50,241.71 L43.00,241.83 L43.50,241.93 L44.00,242.03 L44.50,242.13 L45.00,242.22 L45.50,242.30 L46.00,242.39 L46.50,242.46 L47.00,242.54 L47.50,242.61 L48.00,242.67 L48.50,242.73 L49.00,242.79 L49.50,242.84 L50.00,242.89 L50.50,242.94 L51.00,242.98 L51.50,243.02 L52.00,243.06 L52.50,243.09 L53.00,243.12 L53.50,243.15 L54.00,243.18 L54.50,243.20 L55.00,243.20 L55.50,243.20 L56.00,243.20 L56.50,243.20 L57.00,243.20 L57.50,243.20 L58.00,243.20 L58.50,243.20 L59.00,243.20 L59.50,243.20 L60.00,243.20 L60.50,243.20 L61.00,243.20 L61.50,243.20 L62.00,243.20 L62.50,243.20 L63.00,243.20 L63.50,243.20 L64.00,243.20 L64.50,243.20 L65.00,243.20 L65.50,243.19 L66.00,243.18 L66.50,243.17 L67.00,243.15 L67.50,243.14 L68.00,243.13 L68.50,243.11 L69.00,243.10 L69.50,243.09 L70.00,243.08 L70.50,243.06 L71.00,243.05 L71.50,243.04 L72.00,243.03 L72.50,243.02 L73.00,243.01 L73.50,243.01 L74.00,243.00 L74.50,243.00 L75.00,242.99 L75.50,242.99 L76.00,242.98 L76.50,242.98 L77.00,242.98 L77.50,242.98 L78.00,242.98 L78.50,242.98 L79.00,242.98 L79.50,242.98 L80.00,242.98 L80.50,242.99 L81.00,242.99 L81.50,242.99 L82.00,243.00 L82.50,243.00 L83.00,243.01 L83.50,243.01 L84.00,243.02 L84.50,243.02 L85.00,243.03 L85.50,243.03 L86.00,243.04 L86.50,243.05 L87.00,243.06 L87.50,243.06 L88.00,243.07 L88.50,243.08 L89.00,243.08 L89.50,243.09 L90.00,243.10 L90.50,243.11 L91.00,243.11 L91.50,243.12 L92.00,243.13 L92.50,243.14 L93.00,243.14 L93.50,243.15 L94.00,243.16 L94.50,243.16 L95.00,243.17 L95.50,243.18 L96.00,243.18 L96.50,243.19 L97.00,243.19 L97.50,243.20 L98.00,243.20 L98.50,243.20 L99.00,243.20 L99.50,243.20 L100.00,243.20 L100.50,243.20 L101.00,243.20 L101.50,243.20 L102.00,243.20 L102.50,243.20 L103.00,243.20 L103.50,243.20 L104.00,243.20 L104.50,243.20 L105.00,243.20 L105.50,243.20 L106.00,243.20 L106.50,243.20 L107.00,243.19 L107.50,243.19 L108.00,243.18 L108.50,243.18 L109.00,243.17 L109.50,243.16 L110.00,243.15 L110.50,243.15 L111.00,243.14 L111.50,243.13 L112.00,243.12 L112.50,243.11 L113.00,243.11 L113.50,243.10 L114.00,243.09 L114.50,243.08 L115.00,243.07 L115.50,243.06 L116.00,243.05 L116.50,243.04 L117.00,243.04 L117.50,243.03 L118.00,243.02 L118.50,243.01 L119.00,243.00 L119.50,243.00 L120.00,242.99 L120.50,242.98 L121.00,242.97 L121.50,242.97 L122.00,242.96 L122.50,242.96 L123.00,242.95 L123.50,242.95 L124.00,242.94 L124.50,242.94 L125.00,242.94 L125.50,242.93 L126.00,242.93 L126.50,242.93 L127.00,242.93 L127.50,242.93 L128.00,242.93 L128.50,242.93 L129.00,242.93 L129.50,242.94 L130.00,242.94 L130.50,242.95 L131.00,242.95 L131.50,242.96 L132.00,242.97 L132.50,242.97 L133.00,242.98 L133.50,242.99 L134.00,243.01 L134.50,243.02 L135.00,243.03 L135.50,243.05 L136.00,243.06 L136.50,243.08 L137.00,243.10 L137.50,243.11 L138.00,243.13 L138.50,243.15 L139.00,243.17 L139.50,243.19 L140.00,243.20 L140.50,243.20 L141.00,243.20 L141.50,243.20 L142.00,243.20 L142.50,243.20 L143.00,243.20 L143.50,243.20 L144.00,243.20 L144.50,243.20 L145.00,243.20 L145.50,243.20 L146.00,243.20 L146.50,243.20 L147.00,243.20 L147.50,243.20 L148.00,243.20 L148.50,243.20 L149.00,243.20 L149.50,243.20 L150.00,243.20 L150.50,243.20 L151.00,243.20 L151.50,243.20 L152.00,243.20 L152.50,243.20 L153.00,243.17 L153.50,243.13 L154.00,243.08 L154.50,243.03 L155.00,242.98 L155.50,242.92 L156.00,242.86 L156.50,242.79 L157.00,242.72 L157.50,242.64 L158.00,242.56 L158.50,242.47 L159.00,242.38 L159.50,242.28 L160.00,242.17 L160.50,242.06 L161.00,241.94 L161.50,241.82 L162.00,241.69 L162.50,241.55 L163.00,241.41 L163.50,241.25 L164.00,241.10 L164.50,240.93 L165.00,240.76 L165.50,240.58 L166.00,240.39 L166.50,240.19 L167.00,239.98 L167.50,239.76 L168.00,239.52 L168.50,239.25 L169.00,238.96 L169.50,238.63 L170.00,238.27 L170.50,237.88 L171.00,237.44 L171.50,236.95 L172.00,236.41 L172.50,235.82 L173.00,235.17 L173.50,234.46 L174.00,233.69 L174.50,232.84 L175.00,231.94 L175.50,230.99 L176.00,229.99 L176.50,228.97 L177.00,227.92 L177.50,226.86 L178.00,225.80 L178.50,224.75 L179.00,223.68 L179.50,222.60 L180.00,221.49 L180.50,220.34 L181.00,219.12 L181.50,217.83 L182.00,216.46 L182.50,214.99 L183.00,213.44 L183.50,211.81 L184.00,210.11 L184.50,208.36 L185.00,206.55 L185.50,204.71 L186.00,202.84 L186.50,200.96 L187.00,199.07 L187.50,197.18 L188.00,195.31 L188.50,193.46 L189.00,191.64 L189.50,189.87 L190.00,188.16 L190.50,186.50 L191.00,184.90 L191.50,183.36 L192.00,181.86 L192.50,180.40 L193.00,178.98 L193.50,177.58 L194.00,176.21 L194.50,174.85 L195.00,173.51 L195.50,172.16 L196.00,170.82 L196.50,169.47 L197.00,168.10 L197.50,166.72 L198.00,165.30 L198.50,163.86 L199.00,162.39 L199.50,160.89 L200.00,159.36 L200.50,157.81 L201.00,156.23 L201.50,154.63 L202.00,153.02 L202.50,151.38 L203.00,149.73 L203.50,148.06 L204.00,146.38 L204.50,144.69 L205.00,142.98 L205.50,141.27 L206.00,139.56 L206.50,137.84 L207.00,136.11 L207.50,134.39 L208.00,132.66 L208.50,130.94 L209.00,129.22 L209.50,127.51 L210.00,125.80 L210.50,124.10 L211.00,122.42 L211.50,120.74 L212.00,119.09 L212.50,117.44 L213.00,115.82 L213.50,114.21 L214.00,112.62 L214.50,111.06 L215.00,109.52 L215.50,108.00 L216.00,106.51 L216.50,105.04 L217.00,103.60 L217.50,102.18 L218.00,100.79 L218.50,99.42 L219.00,98.08 L219.50,96.77 L220.00,95.49 L220.50,94.24 L221.00,93.01 L221.50,91.81 L222.00,90.65 L222.50,89.51 L223.00,88.41 L223.50,87.33 L224.00,86.29 L224.50,85.28 L225.00,84.30 L225.50,83.36 L226.00,82.45 L226.50,81.57 L227.00,80.73 L227.50,79.92 L228.00,79.15 L228.50,78.41 L229.00,77.71 L229.50,77.05 L230.00,76.42 L230.50,75.83 L231.00,75.27 L231.50,74.74 L232.00,74.23 L232.50,73.76 L233.00,73.30 L233.50,72.87 L234.00,72.47 L234.50,72.08 L235.00,71.71 L235.50,71.35 L236.00,71.01 L236.50,70.68 L237.00,70.37 L237.50,70.06 L238.00,69.76 L238.50,69.46 L239.00,69.17 L239.50,68.88 L240.00,68.59 L240.50,68.30 L241.00,68.00 L241.50,67.71 L242.00,67.40 L242.50,67.08 L243.00,66.76 L243.50,66.42 L244.00,66.07 L244.50,65.71 L245.00,65.32 L245.50,64.92 L246.00,64.50 L246.50,64.06 L247.00,63.61 L247.50,63.14 L248.00,62.66 L248.50,62.16 L249.00,61.65 L249.50,61.13 L250.00,60.60 L250.50,60.06 L251.00,59.51 L251.50,58.95 L252.00,58.39 L252.50,57.82 L253.00,57.24 L253.50,56.66 L254.00,56.07 L254.50,55.49 L255.00,54.90 L255.50,54.31 L256.00,53.72 L256.50,53.13 L257.00,52.55 L257.50,51.96 L258.00,51.39 L258.50,50.81 L259.00,50.24 L259.50,49.68 L260.00,49.13 L260.50,48.58 L261.00,48.05 L261.50,47.52 L262.00,47.00 L262.50,46.50 L263.00,46.00 L263.50,45.52 L264.00,45.05 L264.50,44.59 L265.00,44.14 L265.50,43.71 L266.00,43.29 L266.50,42.89 L267.00,42.50 L267.50,42.12 L268.00,41.77 L268.50,41.43 L269.00,41.10 L269.50,40.80 L270.00,40.51 L270.50,40.24 L271.00,39.99 L271.50,39.76 L272.00,39.55 L272.50,39.36 L273.00,39.19 L273.50,39.05 L274.00,38.92 L274.50,38.82 L275.00,38.74 L275.50,38.69 L276.00,38.66 L276.50,38.65 L277.00,38.67 L277.50,38.71 L278.00,38.77 L278.50,38.85 L279.00,38.94 L279.50,39.06 L280.00,39.18 L280.50,39.33 L281.00,39.48 L281.50,39.64 L282.00,39.82 L282.50,40.00 L283.00,40.19 L283.50,40.38 L284.00,40.58 L284.50,40.78 L285.00,40.98 L285.50,41.18 L286.00,41.37 L286.50,41.57 L287.00,41.76 L287.50,41.94 L288.00,42.12 L288.50,42.29 L289.00,42.45 L289.50,42.59 L290.00,42.73 L290.50,42.84 L291.00,42.95 L291.50,43.03 L292.00,43.10 L292.50,43.15 L293.00,43.19 L293.50,43.21 L294.00,43.22 L294.50,43.21 L295.00,43.19 L295.50,43.15 L296.00,43.10 L296.50,43.04 L297.00,42.97 L297.50,42.88 L298.00,42.78 L298.50,42.68 L299.00,42.56 L299.50,42.43 L300.00,42.29 L300.50,42.14 L301.00,41.98 L301.50,41.82 L302.00,41.64 L302.50,41.46 L303.00,41.27 L303.50,41.08 L304.00,40.88 L304.50,40.67 L305.00,40.46 L305.50,40.25 L306.00,40.02 L306.50,39.80 L307.00,39.57 L307.50,39.34 L308.00,39.11 L308.50,38.87 L309.00,38.63 L309.50,38.40 L310.00,38.16 L310.50,37.92 L311.00,37.68 L311.50,37.44 L312.00,37.20 L312.50,36.96 L313.00,36.73 L313.50,36.49 L314.00,36.26 L314.50,36.04 L315.00,35.81 L315.50,35.59 L316.00,35.38 L316.50,35.17 L317.00,34.96 L317.50,34.76 L318.00,34.57 L318.50,34.39 L319.00,34.21 L319.50,34.04 L320.00,33.87 L320.50,33.72 L321.00,33.57 L321.50,33.44 L322.00,33.31 L322.50,33.20 L323.00,33.09 L323.50,33.00 L324.00,32.91 L324.50,32.84 L325.00,32.78 L325.50,32.72 L326.00,32.68 L326.50,32.65 L327.00,32.62 L327.50,32.61 L328.00,32.60 L328.50,32.60 L329.00,32.61 L329.50,32.63 L330.00,32.66 L330.50,32.69 L331.00,32.73 L331.50,32.77 L332.00,32.83 L332.50,32.88 L333.00,32.95 L333.50,33.02 L334.00,33.09 L334.50,33.17 L335.00,33.26 L335.50,33.35 L336.00,33.44 L336.50,33.54 L337.00,33.64 L337.50,33.74 L338.00,33.85 L338.50,33.96 L339.00,34.07 L339.50,34.18 L340.00,34.30 L340.50,34.42 L341.00,34.53 L341.50,34.65 L342.00,34.77 L342.50,34.90 L343.00,35.02 L343.50,35.14 L344.00,35.26 L344.50,35.38 L345.00,35.50 L345.50,35.62 L346.00,35.73 L346.50,35.85 L347.00,35.96 L347.50,36.07 L348.00,36.18 L348.50,36.28 L349.00,36.38 L349.50,36.48 L350.00,36.57 L350.50,36.66 L351.00,36.75 L351.50,36.83 L352.00,36.91 L352.50,36.98 L353.00,37.04 L353.50,37.10 L354.00,37.16 L354.50,37.20 L355.00,37.25 L355.50,37.28 L356.00,37.31 L356.50,37.34 L357.00,37.35 L357.50,37.37 L358.00,37.37 L358.50,37.38 L359.00,37.37 L359.50,37.37 L360.00,37.36 L360.50,37.34 L361.00,37.32 L361.50,37.29 L362.00,37.26 L362.50,37.23 L363.00,37.19 L363.50,37.15 L364.00,37.11 L364.50,37.06 L365.00,37.01 L365.50,36.96 L366.00,36.90 L366.50,36.84 L367.00,36.78 L367.50,36.72 L368.00,36.65 L368.50,36.58 L369.00,36.51 L369.50,36.44 L370.00,36.36 L370.50,36.28 L371.00,36.21 L371.50,36.13 L372.00,36.05 L372.50,35.97 L373.00,35.89 L373.50,35.80 L374.00,35.72 L374.50,35.64 L375.00,35.55 L375.50,35.47 L376.00,35.38 L376.50,35.30 L377.00,35.22 L377.50,35.13 L378.00,35.05 L378.50,34.97 L379.00,34.89 L379.50,34.81 L380.00,34.73 L380.50,34.65 L381.00,34.58 L381.50,34.50 L382.00,34.43 L382.50,34.36 L383.00,34.29 L383.50,34.23 L384.00,34.16 L384.50,34.10 L385.00,34.04 L385.50,33.99 L386.00,33.94 L386.50,33.89 L387.00,33.84 L387.50,33.80 L388.00,33.76 L388.50,33.72 L389.00,33.68 L389.50,33.65 L390.00,33.62 L390.50,33.59 L391.00,33.57 L391.50,33.55 L392.00,33.52 L392.50,33.51 L393.00,33.49 L393.50,33.48 L394.00,33.46 L394.50,33.45 L395.00,33.45 L395.50,33.44 L396.00,33.44 L396.50,33.43 L397.00,33.43 L397.50,33.43 L398.00,33.43 L398.50,33.43 L399.00,33.44 L399.50,33.44 L400.00,33.45 L400.50,33.46 L401.00,33.46 L401.50,33.47 L402.00,33.48 L402.50,33.49 L403.00,33.50 L403.50,33.51 L404.00,33.53 L404.50,33.54 L405.00,33.55 L405.50,33.56 L406.00,33.58 L406.50,33.59 L407.00,33.60 L407.50,33.62 L408.00,33.63 L408.50,33.64 L409.00,33.65 L409.50,33.67 L410.00,33.68 L410.50,33.69 L411.00,33.70 L411.50,33.71 L412.00,33.72 L412.50,33.73 L413.00,33.73 L413.50,33.74 L414.00,33.74 L414.50,33.75 L415.00,33.75 L415.50,33.75 L416.00,33.75 L416.50,33.75 L417.00,33.75 L417.50,33.75 L418.00,33.74 L418.50,33.73 L419.00,33.73 L419.50,33.72 L420.00,33.71 L420.50,33.69 L421.00,33.68 L421.50,33.67 L422.00,33.65 L422.50,33.63 L423.00,33.62 L423.50,33.60 L424.00,33.58 L424.50,33.56 L425.00,33.54 L425.50,33.51 L426.00,33.49 L426.50,33.47 L427.00,33.45 L427.50,33.42 L428.00,33.40 L428.50,33.37 L429.00,33.35 L429.50,33.32 L430.00,33.30 L430.35,33.29 L430.70,33.28 L431.05,33.26 L431.40,33.22 L431.75,33.17 L432.10,33.13 L432.45,33.12 L432.80,33.15 L433.15,33.20 L433.50,33.22 L433.85,33.18 L434.20,33.08 L434.55,32.97 L434.90,32.90 L435.25,32.92 L435.60,33.01 L435.95,33.11 L436.30,33.16 L436.65,33.10 L437.00,32.94 L437.35,32.78 L437.70,32.69 L438.05,32.73 L438.40,32.88 L438.75,33.05 L439.10,33.12 L439.45,33.03 L439.80,32.82 L440.15,32.60 L440.50,32.49 L440.85,32.56 L441.20,32.78 L441.55,33.00 L441.90,33.10 L442.25,32.99 L442.60,32.73 L442.95,32.48 L443.30,32.37 L443.65,32.46 L444.00,32.70 L444.35,32.94 L444.70,33.04 L445.05,32.93 L445.40,32.68 L445.75,32.43 L446.10,32.32 L446.45,32.42 L446.80,32.67 L447.15,32.92 L447.50,33.02 L447.85,32.92 L448.20,32.67 L448.55,32.43 L448.90,32.33 L449.25,32.44 L449.60,32.69 L449.95,32.94 L450.30,33.05 L450.65,32.96 L451.00,32.72 L451.35,32.48 L451.70,32.39 L452.05,32.50 L452.40,32.76 L452.75,33.02 L453.10,33.14 L453.45,33.05 L453.80,32.81 L454.15,32.58 L454.50,32.49 L454.85,32.61 L455.20,32.88 L455.55,33.14 L455.90,33.26 L456.25,33.17 L456.60,32.94 L456.95,32.71 L457.30,32.63 L457.65,32.75 L458.00,33.01 L458.35,33.28 L458.70,33.40 L459.05,33.32 L459.40,33.09 L459.75,32.86 L460.10,32.78 L460.45,32.90 L460.80,33.17 L461.15,33.43 L461.50,33.55 L461.85,33.47 L462.20,33.24 L462.55,33.01 L462.90,32.93 L463.25,33.05 L463.60,33.32 L463.95,33.58 L464.30,33.70 L464.65,33.62 L465.00,33.38 L465.35,33.15 L465.70,33.07 L466.05,33.19 L466.40,33.45 L466.75,33.71 L467.10,33.83 L467.45,33.74 L467.80,33.50 L468.15,33.27 L468.50,33.18 L468.85,33.29 L469.20,33.55 L469.55,33.81 L469.90,33.92 L470.25,33.82 L470.60,33.58 L470.95,33.34 L471.30,33.25 L471.65,33.35 L472.00,33.60 L472.35,33.85 L472.70,33.96 L473.05,33.86 L473.40,33.61 L473.75,33.36 L474.10,33.26 L474.45,33.36 L474.80,33.60 L475.15,33.84 L475.50,33.94 L475.85,33.83 L476.20,33.57 L476.55,33.31 L476.90,33.20 L477.25,33.29 L477.60,33.52 L477.95,33.75 L478.30,33.84 L478.65,33.71 L479.00,33.45 L479.35,33.18 L479.70,33.05 L480.05,33.13 L480.40,33.35 L480.75,33.57 L481.10,33.64 L481.45,33.51 L481.80,33.23 L482.15,32.95 L482.50,32.81 L482.85,32.88 L483.20,33.08 L483.55,33.29 L483.90,33.35 L484.25,33.21 L484.60,32.92 L484.95,32.63 L485.30,32.48 L485.65,32.53 L486.00,32.73 L486.35,32.93 L486.70,32.98 L487.05,32.83 L487.40,32.53 L487.75,32.23 L488.10,32.07 L488.45,32.12 L488.80,32.31 L489.15,32.50 L489.50,32.55 L489.85,32.39 L490.20,32.08 L490.55,31.77 L490.90,31.61 L491.25,31.65 L491.60,31.83 L491.95,32.02 L492.30,32.06 L492.65,31.89 L493.00,31.58 L493.35,31.26 L493.70,31.10 L494.05,31.13 L494.40,31.31 L494.75,31.49 L495.10,31.53 L495.45,31.36 L495.80,31.04 L496.15,30.72 L496.50,30.55 L496.85,30.58 L497.20,30.76 L497.55,30.94 L497.90,30.97 L498.25,30.80 L498.60,30.48 L498.95,30.16 L499.30,29.99 L499.65,30.02 L500.00,30.20 L500.35,30.37 L500.70,30.40 L501.05,30.23 L501.40,29.91 L501.75,29.59 L502.10,29.42 L502.45,29.45 L502.80,29.63 L503.15,29.81 L503.50,29.84 L503.85,29.67 L504.20,29.35 L504.55,29.03 L504.90,28.86 L505.25,28.90 L505.60,29.08 L505.95,29.26 L506.30,29.29 L506.65,29.12 L507.00,28.81 L507.35,28.50 L507.70,28.33 L508.05,28.37 L508.40,28.55 L508.75,28.74 L509.10,28.78 L509.45,28.61 L509.80,28.30 L510.15,28.00 L510.50,27.84 L510.85,27.88 L511.20,28.07 L511.55,28.26 L511.90,28.31 L512.25,28.15 L512.60,27.85 L512.95,27.55 L513.30,27.39 L513.65,27.44 L514.00,27.64 L514.35,27.84 L514.70,27.90 L515.05,27.75 L515.40,27.45 L515.75,27.16 L516.10,27.02 L516.45,27.08 L516.80,27.28 L517.15,27.49 L517.50,27.56 L517.85,27.42 L518.20,27.14 L518.55,26.86 L518.90,26.72 L519.25,26.79 L519.60,27.01 L519.95,27.23 L520.30,27.31 L520.65,27.18 L521.00,26.91 L521.35,26.64 L521.70,26.52 L522.05,26.61 L522.40,26.84 L522.75,27.07 L523.10,27.16 L523.45,27.05 L523.80,26.79 L524.15,26.54 L524.50,26.43 L524.85,26.53 L525.20,26.77 L525.55,27.02 L525.90,27.13 L526.25,27.03 L526.60,26.79 L526.95,26.55 L527.30,26.46 L527.65,26.58 L528.00,26.84 L528.35,27.10 L528.70,27.23 L529.05,27.15 L529.40,26.92 L529.75,26.70 L530.10,26.63 L530.45,26.76 L530.80,27.04 L531.15,27.33 L531.50,27.47 L531.85,27.41 L532.20,27.20 L532.55,27.00 L532.90,26.95 L533.25,27.10 L533.60,27.40 L533.95,27.71 L534.30,27.87 L534.65,27.83 L535.00,27.65 L535.35,27.47 L535.70,27.43 L536.05,27.61 L536.40,27.93 L536.75,28.26 L537.10,28.44 L537.45,28.42 L537.80,28.26 L538.15,28.11 L538.50,28.10 L538.85,28.30 L539.20,28.64 L539.55,28.99 L539.90,29.20 L540.25,29.21 L540.60,29.07 L540.95,28.94 L541.30,28.96 L541.65,29.18 L542.00,29.55 L542.35,29.93 L542.70,30.16 L542.90,30.20" stroke="#f2ad0c"/>
<path d="M40.00,242.16 L40.50,242.16 L41.00,242.16 L41.50,242.17 L42.00,242.17 L42.50,242.17 L43.00,242.17 L43.50,242.17 L44.00,242.17 L44.50,242.18 L45.00,242.18 L45.50,242.18 L46.00,242.18 L46.50,242.18 L47.00,242.18 L47.50,242.19 L48.00,242.19 L48.50,242.19 L49.00,242.19 L49.50,242.19 L50.00,242.19 L50.50,242.20 L51.00,242.20 L51.50,242.20 L52.00,242.20 L52.50,242.20 L53.00,242.20 L53.50,242.21 L54.00,242.21 L54.50,242.21 L55.00,242.21 L55.50,242.21 L56.00,242.21 L56.50,242.22 L57.00,242.22 L57.50,242.22 L58.00,242.22 L58.50,242.22 L59.00,242.22 L59.50,242.23 L60.00,242.23 L60.50,242.23 L61.00,242.23 L61.50,242.23 L62.00,242.23 L62.50,242.24 L63.00,242.24 L63.50,242.24 L64.00,242.24 L64.50,242.24 L65.00,242.24 L65.50,242.25 L66.00,242.25 L66.50,242.25 L67.00,242.25 L67.50,242.25 L68.00,242.26 L68.50,242.26 L69.00,242.26 L69.50,242.26 L70.00,242.26 L70.50,242.26 L71.00,242.27 L71.50,242.27 L72.00,242.27 L72.50,242.27 L73.00,242.27 L73.50,242.27 L74.00,242.28 L74.50,242.28 L75.00,242.28 L75.50,242.28 L76.00,242.28 L76.50,242.28 L77.00,242.29 L77.50,242.29 L78.00,242.29 L78.50,242.29 L79.00,242.29 L79.50,242.29 L80.00,242.30 L80.50,242.30 L81.00,242.30 L81.50,242.30 L82.00,242.30 L82.50,242.30 L83.00,242.31 L83.50,242.31 L84.00,242.31 L84.50,242.31 L85.00,242.31 L85.50,242.31 L86.00,242.32 L86.50,242.32 L87.00,242.32 L87.50,242.32 L88.00,242.32 L88.50,242.33 L89.00,242.33 L89.50,242.33 L90.00,242.33 L90.50,242.33 L91.00,242.33 L91.50,242.34 L92.00,242.34 L92.50,242.34 L93.00,242.34 L93.50,242.34 L94.00,242.34 L94.50,242.35 L95.00,242.35 L95.50,242.35 L96.00,242.35 L96.50,242.35 L97.00,242.35 L97.50,242.36 L98.00,242.36 L98.50,242.36 L99.00,242.36 L99.50,242.36 L100.00,242.36 L100.50,242.37 L101.00,242.37 L101.50,242.37 L102.00,242.37 L102.50,242.37 L103.00,242.37 L103.50,242.38 L104.00,242.38 L104.50,242.38 L105.00,242.38 L105.50,242.38 L106.00,242.38 L106.50,242.39 L107.00,242.39 L107.50,242.39 L108.00,242.39 L108.50,242.39 L109.00,242.39 L109.50,242.40 L110.00,242.40 L110.50,242.40 L111.00,242.40 L111.50,242.40 L112.00,242.40 L112.50,242.41 L113.00,242.41 L113.50,242.41 L114.00,242.41 L114.50,242.41 L115.00,242.41 L115.50,242.42 L116.00,242.42 L116.50,242.42 L117.00,242.42 L117.50,242.42 L118.00,242.42 L118.50,242.42 L119.00,242.43 L119.50,242.43 L120.00,242.43 L120.50,242.43 L121.00,242.43 L121.50,242.43 L122.00,242.44 L122.50,242.44 L123.00,242.44 L123.50,242.44 L124.00,242.44 L124.50,242.44 L125.00,242.45 L125.50,242.45 L126.00,242.45 L126.50,242.45 L127.00,242.45 L127.50,242.45 L128.00,242.46 L128.50,242.46 L129.00,242.46 L129.50,242.46 L130.00,242.46 L130.50,242.46 L131.00,242.46 L131.50,242.47 L132.00,242.47 L132.50,242.47 L133.00,242.47 L133.50,242.47 L134.00,242.47 L134.50,242.48 L135.00,242.48 L135.50,242.48 L136.00,242.48 L136.50,242.48 L137.00,242.48 L137.50,242.48 L138.00,242.49 L138.50,242.49 L139.00,242.49 L139.50,242.49 L140.00,242.49 L140.50,242.49 L141.00,242.49 L141.50,242.50 L142.00,242.50 L142.50,242.50 L143.00,242.50 L143.50,242.50 L144.00,242.50 L144.50,242.51 L145.00,242.51 L145.50,242.51 L146.00,242.51 L146.50,242.51 L147.00,242.51 L147.50,242.51 L148.00,242.52 L148.50,242.52 L149.00,242.52 L149.50,242.52 L150.00,242.52 L150.50,242.52 L151.00,242.52 L151.50,242.53 L152.00,242.53 L152.50,242.53 L153.00,242.53 L153.50,242.53 L154.00,242.53 L154.50,242.53 L155.00,242.53 L155.50,242.54 L156.00,242.54 L156.50,242.54 L157.00,242.54 L157.50,242.54 L158.00,242.54 L158.50,242.54 L159.00,242.55 L159.50,242.55 L160.00,242.55 L160.50,242.55 L161.00,242.55 L161.50,242.55 L162.00,242.55 L162.50,242.56 L163.00,242.56 L163.50,242.56 L164.00,242.56 L164.50,242.56 L165.00,242.56 L165.50,242.56 L166.00,242.56 L166.50,242.57 L167.00,242.57 L167.50,242.57 L168.00,242.57 L168.50,242.57 L169.00,242.57 L169.50,242.57 L170.00,242.57 L170.50,242.58 L171.00,242.58 L171.50,242.58 L172.00,242.58 L172.50,242.58 L173.00,242.58 L173.50,242.58 L174.00,242.58 L174.50,242.59 L175.00,242.59 L175.50,242.59 L176.00,242.59 L176.50,242.59 L177.00,242.59 L177.50,242.59 L178.00,242.59 L178.50,242.59 L179.00,242.60 L179.50,242.60 L180.00,242.60 L180.50,242.60 L181.00,242.60 L181.50,242.60 L182.00,242.60 L182.50,242.60 L183.00,242.60 L183.50,242.61 L184.00,242.61 L184.50,242.61 L185.00,242.61 L185.50,242.61 L186.00,242.61 L186.50,242.61 L187.00,242.61 L187.50,242.61 L188.00,242.62 L188.50,242.62 L189.00,242.62 L189.50,242.62 L190.00,242.62 L190.50,242.62 L191.00,242.62 L191.50,242.62 L192.00,242.62 L192.50,242.62 L193.00,242.63 L193.50,242.63 L194.00,242.63 L194.50,242.63 L195.00,242.63 L195.50,242.63 L196.00,242.63 L196.50,242.63 L197.00,242.63 L197.50,242.63 L198.00,242.64 L198.50,242.64 L199.00,242.64 L199.50,242.64 L200.00,242.64 L200.50,242.64 L201.00,242.64 L201.50,242.64 L202.00,242.64 L202.50,242.64 L203.00,242.64 L203.50,242.65 L204.00,242.65 L204.50,242.65 L205.00,242.65 L205.50,242.65 L206.00,242.65 L206.50,242.65 L207.00,242.65 L207.50,242.65 L208.00,242.65 L208.50,242.65 L209.00,242.65 L209.50,242.65 L210.00,242.66 L210.50,242.66 L211.00,242.66 L211.50,242.66 L212.00,242.66 L212.50,242.66 L213.00,242.66 L213.50,242.66 L214.00,242.66 L214.50,242.66 L215.00,242.66 L215.50,242.66 L216.00,242.66 L216.50,242.66 L217.00,242.67 L217.50,242.67 L218.00,242.67 L218.50,242.67 L219.00,242.67 L219.50,242.67 L220.00,242.67 L220.50,242.67 L221.00,242.67 L221.50,242.67 L222.00,242.67 L222.50,242.67 L223.00,242.67 L223.50,242.67 L224.00,242.67 L224.50,242.67 L225.00,242.68 L225.50,242.68 L226.00,242.68 L226.50,242.68 L227.00,242.68 L227.50,242.68 L228.00,242.68 L228.50,242.68 L229.00,242.68 L229.50,242.68 L230.00,242.68 L230.50,242.68 L231.00,242.68 L231.50,242.68 L232.00,242.68 L232.50,242.68 L233.00,242.68 L233.50,242.68 L234.00,242.68 L234.50,242.68 L235.00,242.68 L235.50,242.68 L236.00,242.69 L236.50,242.69 L237.00,242.69 L237.50,242.69 L238.00,242.69 L238.50,242.69 L239.00,242.69 L239.50,242.69 L240.00,242.69 L240.50,242.69 L241.00,242.69 L241.50,242.69 L242.00,242.69 L242.50,242.69 L243.00,242.69 L243.50,242.69 L244.00,242.69 L244.50,242.69 L245.00,242.69 L245.50,242.69 L246.00,242.69 L246.50,242.69 L247.00,242.69 L247.50,242.69 L248.00,242.69 L248.50,242.69 L249.00,242.69 L249.50,242.69 L250.00,242.69 L250.50,242.69 L251.00,242.69 L251.50,242.69 L252.00,242.69 L252.50,242.69 L253.00,242.69 L253.50,242.69 L254.00,242.69 L254.50,242.69 L255.00,242.69 L255.50,242.69 L256.00,242.69 L256.50,242.69 L257.00,242.69 L257.50,242.69 L258.00,242.69 L258.50,242.69 L259.00,242.69 L259.50,242.69 L260.00,242.69 L260.50,242.69 L261.00,242.69 L261.50,242.69 L262.00,242.69 L262.50,242.69 L263.00,242.69 L263.50,242.69 L264.00,242.69 L264.50,242.69 L265.00,242.69 L265.50,242.69 L266.00,242.69 L266.50,242.69 L267.00,242.69 L267.50,242.69 L268.00,242.69 L268.50,242.69 L269.00,242.69 L269.50,242.69 L270.00,242.69 L270.50,242.69 L271.00,242.69 L271.50,242.69 L272.00,242.69 L272.50,242.69 L273.00,242.69 L273.50,242.69 L274.00,242.69 L274.50,242.69 L275.00,242.69 L275.50,242.69 L276.00,242.69 L276.50,242.69 L277.00,242.68 L277.50,242.68 L278.00,242.68 L278.50,242.68 L279.00,242.68 L279.50,242.68 L280.00,242.68 L280.50,242.68 L281.00,242.68 L281.50,242.68 L282.00,242.68 L282.50,242.68 L283.00,242.68 L283.50,242.68 L284.00,242.68 L284.50,242.68 L285.00,242.68 L285.50,242.68 L286.00,242.68 L286.50,242.68 L287.00,242.67 L287.50,242.67 L288.00,242.67 L288.50,242.67 L289.00,242.67 L289.50,242.67 L290.00,242.67 L290.50,242.67 L291.00,242.67 L291.50,242.67 L292.00,242.67 L292.50,242.67 L293.00,242.67 L293.50,242.67 L294.00,242.67 L294.50,242.66 L295.00,242.66 L295.50,242.66 L296.00,242.66 L296.50,242.66 L297.00,242.66 L297.50,242.66 L298.00,242.66 L298.50,242.66 L299.00,242.66 L299.50,242.66 L300.00,242.67 L300.50,242.67 L301.00,242.67 L301.50,242.67 L302.00,242.67 L302.50,242.67 L303.00,242.67 L303.50,242.68 L304.00,242.68 L304.50,242.68 L305.00,242.68 L305.50,242.69 L306.00,242.69 L306.50,242.69 L307.00,242.70 L307.50,242.70 L308.00,242.71 L308.50,242.71 L309.00,242.72 L309.50,242.73 L310.00,242.73 L310.50,242.74 L311.00,242.75 L311.50,242.75 L312.00,242.76 L312.50,242.77 L313.00,242.78 L313.50,242.79 L314.00,242.80 L314.50,242.81 L315.00,242.82 L315.50,242.83 L316.00,242.84 L316.50,242.85 L317.00,242.87 L317.50,242.88 L318.00,242.89 L318.50,242.91 L319.00,242.92 L319.50,242.94 L320.00,242.96 L320.50,242.97 L321.00,242.99 L321.50,243.01 L322.00,243.03 L322.50,243.05 L323.00,243.07 L323.50,243.09 L324.00,243.11 L324.50,243.13 L325.00,243.15 L325.50,243.17 L326.00,243.19 L326.50,243.20 L327.00,243.20 L327.50,243.20 L328.00,243.20 L328.50,243.20 L329.00,243.20 L329.50,243.20 L330.00,243.20 L330.50,243.20 L331.00,243.20 L331.50,243.18 L332.00,243.15 L332.50,243.11 L333.00,243.06 L333.50,243.01 L334.00,242.95 L334.50,242.88 L335.00,242.81 L335.50,242.72 L336.00,242.63 L336.50,242.52 L337.00,242.40 L337.50,242.28 L338.00,242.14 L338.50,241.99 L339.00,241.83 L339.50,241.65 L340.00,241.46 L340.50,241.25 L341.00,241.02 L341.50,240.76 L342.00,240.47 L342.50,240.14 L343.00,239.78 L343.50,239.37 L344.00,238.92 L344.50,238.43 L345.00,237.87 L345.50,237.27 L346.00,236.60 L346.50,235.87 L347.00,235.08 L347.50,234.22 L348.00,233.29 L348.50,232.31 L349.00,231.27 L349.50,230.20 L350.00,229.09 L350.50,227.95 L351.00,226.79 L351.50,225.61 L352.00,224.43 L352.50,223.25 L353.00,222.07 L353.50,220.91 L354.00,219.76 L354.50,218.65 L355.00,217.56 L355.50,216.50 L356.00,215.47 L356.50,214.48 L357.00,213.51 L357.50,212.59 L358.00,211.69 L358.50,210.83 L359.00,210.01 L359.50,209.21 L360.00,208.44 L360.50,207.69 L361.00,206.96 L361.50,206.25 L362.00,205.55 L362.50,204.86 L363.00,204.19 L363.50,203.52 L364.00,202.86 L364.50,202.21 L365.00,201.57 L365.50,200.93 L366.00,200.31 L366.50,199.69 L367.00,199.08 L367.50,198.47 L368.00,197.88 L368.50,197.28 L369.00,196.70 L369.50,196.12 L370.00,195.55 L370.50,194.98 L371.00,194.41 L371.50,193.85 L372.00,193.29 L372.50,192.74 L373.00,192.18 L373.50,191.62 L374.00,191.06 L374.50,190.50 L375.00,189.94 L375.50,189.37 L376.00,188.79 L376.50,188.21 L377.00,187.62 L377.50,187.02 L378.00,186.42 L378.50,185.80 L379.00,185.17 L379.50,184.54 L380.00,183.88 L380.50,183.22 L381.00,182.54 L381.50,181.84 L382.00,181.12 L382.50,180.39 L383.00,179.64 L383.50,178.87 L384.00,178.08 L384.50,177.27 L385.00,176.43 L385.50,175.57 L386.00,174.69 L386.50,173.78 L387.00,172.84 L387.50,171.89 L388.00,170.90 L388.50,169.90 L389.00,168.87 L389.50,167.81 L390.00,166.74 L390.50,165.64 L391.00,164.52 L391.50,163.37 L392.00,162.21 L392.50,161.02 L393.00,159.82 L393.50,158.59 L394.00,157.35 L394.50,156.09 L395.00,154.81 L395.50,153.52 L396.00,152.22 L396.50,150.92 L397.00,149.62 L397.50,148.32 L398.00,147.04 L398.50,145.76 L399.00,144.50 L399.50,143.25 L400.00,142.01 L400.50,140.78 L401.00,139.57 L401.50,138.36 L402.00,137.16 L402.50,135.96 L403.00,134.78 L403.50,133.60 L404.00,132.42 L404.50,131.25 L405.00,130.08 L405.50,128.91 L406.00,127.73 L406.50,126.55 L407.00,125.37 L407.50,124.18 L408.00,122.98 L408.50,121.77 L409.00,120.55 L409.50,119.32 L410.00,118.07 L410.50,116.81 L411.00,115.54 L411.50,114.26 L412.00,112.98 L412.50,111.71 L413.00,110.44 L413.50,109.19 L414.00,107.96 L414.50,106.75 L415.00,105.57 L415.50,104.42 L416.00,103.31 L416.50,102.25 L417.00,101.23 L417.50,100.27 L418.00,99.36 L418.50,98.50 L419.00,97.68 L419.50,96.92 L420.00,96.20 L420.50,95.52 L421.00,94.89 L421.50,94.29 L422.00,93.74 L422.50,93.22 L423.00,92.74 L423.50,92.30 L424.00,91.89 L424.50,91.50 L425.00,91.15 L425.50,90.83 L426.00,90.54 L426.50,90.26 L427.00,90.02 L427.50,89.79 L428.00,89.59 L428.50,89.40 L429.00,89.23 L429.50,89.08 L430.00,88.94 L430.50,88.82 L431.00,88.70 L431.50,88.59 L432.00,88.50 L432.50,88.41 L433.00,88.32 L433.50,88.24 L434.00,88.16 L434.50,88.08 L435.00,88.00 L435.50,87.92 L436.00,87.84 L436.50,87.76 L437.00,87.68 L437.50,87.60 L438.00,87.51 L438.50,87.42 L439.00,87.32 L439.50,87.22 L440.00,87.11 L440.50,86.99 L441.00,86.87 L441.50,86.74 L442.00,86.59 L442.50,86.44 L443.00,86.28 L443.50,86.10 L444.00,85.92 L444.50,85.72 L445.00,85.50 L445.50,85.28 L446.00,85.03 L446.50,84.77 L447.00,84.49 L447.50,84.20 L448.00,83.89 L448.50,83.56 L449.00,83.21 L449.50,82.83 L450.00,82.44 L450.50,82.03 L451.00,81.61 L451.50,81.16 L452.00,80.71 L452.50,80.24 L453.00,79.75 L453.50,79.26 L454.00,78.75 L454.50,78.24 L455.00,77.71 L455.50,77.18 L456.00,76.65 L456.50,76.11 L457.00,75.56 L457.50,75.01 L458.00,74.46 L458.50,73.91 L459.00,73.37 L459.50,72.82 L460.00,72.27 L460.50,71.73 L461.00,71.20 L461.50,70.67 L462.00,70.15 L462.50,69.64 L463.00,69.14 L463.50,68.64 L464.00,68.17 L464.50,67.70 L465.00,67.25 L465.50,66.81 L466.00,66.39 L466.50,65.98 L467.00,65.58 L467.50,65.20 L468.00,64.83 L468.50,64.48 L469.00,64.13 L469.50,63.80 L470.00,63.48 L470.50,63.16 L471.00,62.86 L471.50,62.57 L472.00,62.29 L472.50,62.01 L473.00,61.74 L473.50,61.48 L474.00,61.23 L474.50,60.98 L475.00,60.74 L475.50,60.51 L476.00,60.28 L476.50,60.05 L477.00,59.83 L477.50,59.61 L478.00,59.40 L478.50,59.19 L479.00,58.98 L479.50,58.77 L480.00,58.56 L480.50,58.35 L481.00,58.15 L481.50,57.94 L482.00,57.73 L482.50,57.53 L483.00,57.33 L483.50,57.13 L484.00,56.92 L484.50,56.72 L485.00,56.53 L485.50,56.33 L486.00,56.13 L486.50,55.94 L487.00,55.75 L487.50,55.55 L488.00,55.36 L488.50,55.18 L489.00,54.99 L489.50,54.81 L490.00,54.62 L490.50,54.44 L491.00,54.27 L491.50,54.09 L492.00,53.92 L492.50,53.75 L493.00,53.58 L493.50,53.41 L494.00,53.25 L494.50,53.09 L495.00,52.93 L495.50,52.77 L496.00,52.62 L496.50,52.47 L497.00,52.32 L497.50,52.18 L498.00,52.04 L498.50,51.90 L499.00,51.77 L499.50,51.63 L500.00,51.51 L500.50,51.38 L501.00,51.26 L501.50,51.15 L502.00,51.03 L502.50,50.92 L503.00,50.82 L503.50,50.72 L504.00,50.62 L504.50,50.53 L505.00,50.44 L505.35,50.39 L505.70,50.36 L506.05,50.31 L506.40,50.21 L506.75,50.08 L507.10,49.98 L507.45,49.95 L507.80,50.02 L508.15,50.12 L508.50,50.15 L508.85,50.07 L509.20,49.86 L509.55,49.63 L509.90,49.49 L510.25,49.54 L510.60,49.75 L510.95,49.99 L511.30,50.10 L511.65,49.98 L512.00,49.67 L512.35,49.33 L512.70,49.16 L513.05,49.28 L513.40,49.63 L513.75,50.01 L514.10,50.19 L514.45,50.04 L514.80,49.62 L515.15,49.17 L515.50,48.97 L515.85,49.16 L516.20,49.64 L516.55,50.16 L516.90,50.41 L517.25,50.21 L517.60,49.69 L517.95,49.18 L518.30,48.98 L518.65,49.22 L519.00,49.77 L519.35,50.32 L519.70,50.56 L520.05,50.37 L520.40,49.86 L520.75,49.36 L521.10,49.17 L521.45,49.41 L521.80,49.97 L522.15,50.53 L522.50,50.78 L522.85,50.60 L523.20,50.10 L523.55,49.60 L523.90,49.41 L524.25,49.67 L524.60,50.23 L524.95,50.79 L525.30,51.05 L525.65,50.86 L526.00,50.37 L526.35,49.87 L526.70,49.69 L527.05,49.94 L527.40,50.51 L527.75,51.07 L528.10,51.33 L528.45,51.14 L528.80,50.65 L529.15,50.15 L529.50,49.97 L529.85,50.22 L530.20,50.78 L530.55,51.35 L530.90,51.60 L531.25,51.41 L531.60,50.91 L531.95,50.41 L532.30,50.22 L532.65,50.47 L533.00,51.02 L533.35,51.58 L533.70,51.82 L534.05,51.63 L534.40,51.12 L534.75,50.61 L535.10,50.41 L535.45,50.65 L535.80,51.20 L536.15,51.75 L536.50,51.98 L536.85,51.78 L537.20,51.26 L537.55,50.74 L537.90,50.53 L538.25,50.76 L538.60,51.29 L538.95,51.82 L539.30,52.05 L539.65,51.83 L540.00,51.29 L540.35,50.76 L540.70,50.53 L541.05,50.74 L541.40,51.26 L541.75,51.78 L542.10,51.98 L542.45,51.74 L542.80,51.19 L542.90,51.02" stroke="#cc1111"/>
</g>
<g fill="rgba(255,255,255,0.85)" stroke="#2a2a2a" stroke-width="1.25" stroke-linejoin="miter">
<path d="M128.2,51.0 L123.5,59.2 L132.8,59.2 Z"/>
<path d="M121.9,154.2 L117.2,162.8 L126.6,162.8 Z"/>
<path d="M130.0,194.4 L125.3,203.2 L134.7,203.2 Z"/>
<path d="M238.6,157.0 L233.9,165.8 L243.2,165.8 Z"/>
<path d="M327.6,28.6 L323.0,37.2 L332.2,37.2 Z"/>
<path d="M516.8,45.7 L512.1,54.4 L521.4,54.4 Z"/>
</g>
<g stroke-width="2" font-size="9" fill="#555">
<line x1="19.1" y1="293.5" x2="34.6" y2="293.5" stroke="#9a12d6"/>
<text x="35.9" y="296.8">Neurasthenic</text>
<line x1="102.7" y1="293.5" x2="118.2" y2="293.5" stroke="#2b2ea6"/>
<text x="119.5" y="296.8">Omega</text>
<line x1="163.0" y1="293.5" x2="178.5" y2="293.5" stroke="#2fb8ee"/>
<text x="179.8" y="296.8">Depressant</text>
<line x1="239.5" y1="293.5" x2="255.0" y2="293.5" stroke="#4a7d26"/>
<text x="256.3" y="296.8">MU</text>
<line x1="284.1" y1="293.5" x2="299.6" y2="293.5" stroke="#f2ad0c"/>
<text x="300.9" y="296.8">Stimulant</text>
<line x1="351.5" y1="293.5" x2="367.0" y2="293.5" stroke="#cc1111"/>
<text x="368.3" y="296.8">Alpha</text>
</g>
<g fill="#555" font-size="9">
<path d="M412.8,290 L409.9,295.2 L415.7,295.2 Z" fill="none" stroke="#222" stroke-width="1.2"/>
<text x="421.5" y="296.8">Dominant Wavelength</text>
</g>
</svg>
</body></html>
